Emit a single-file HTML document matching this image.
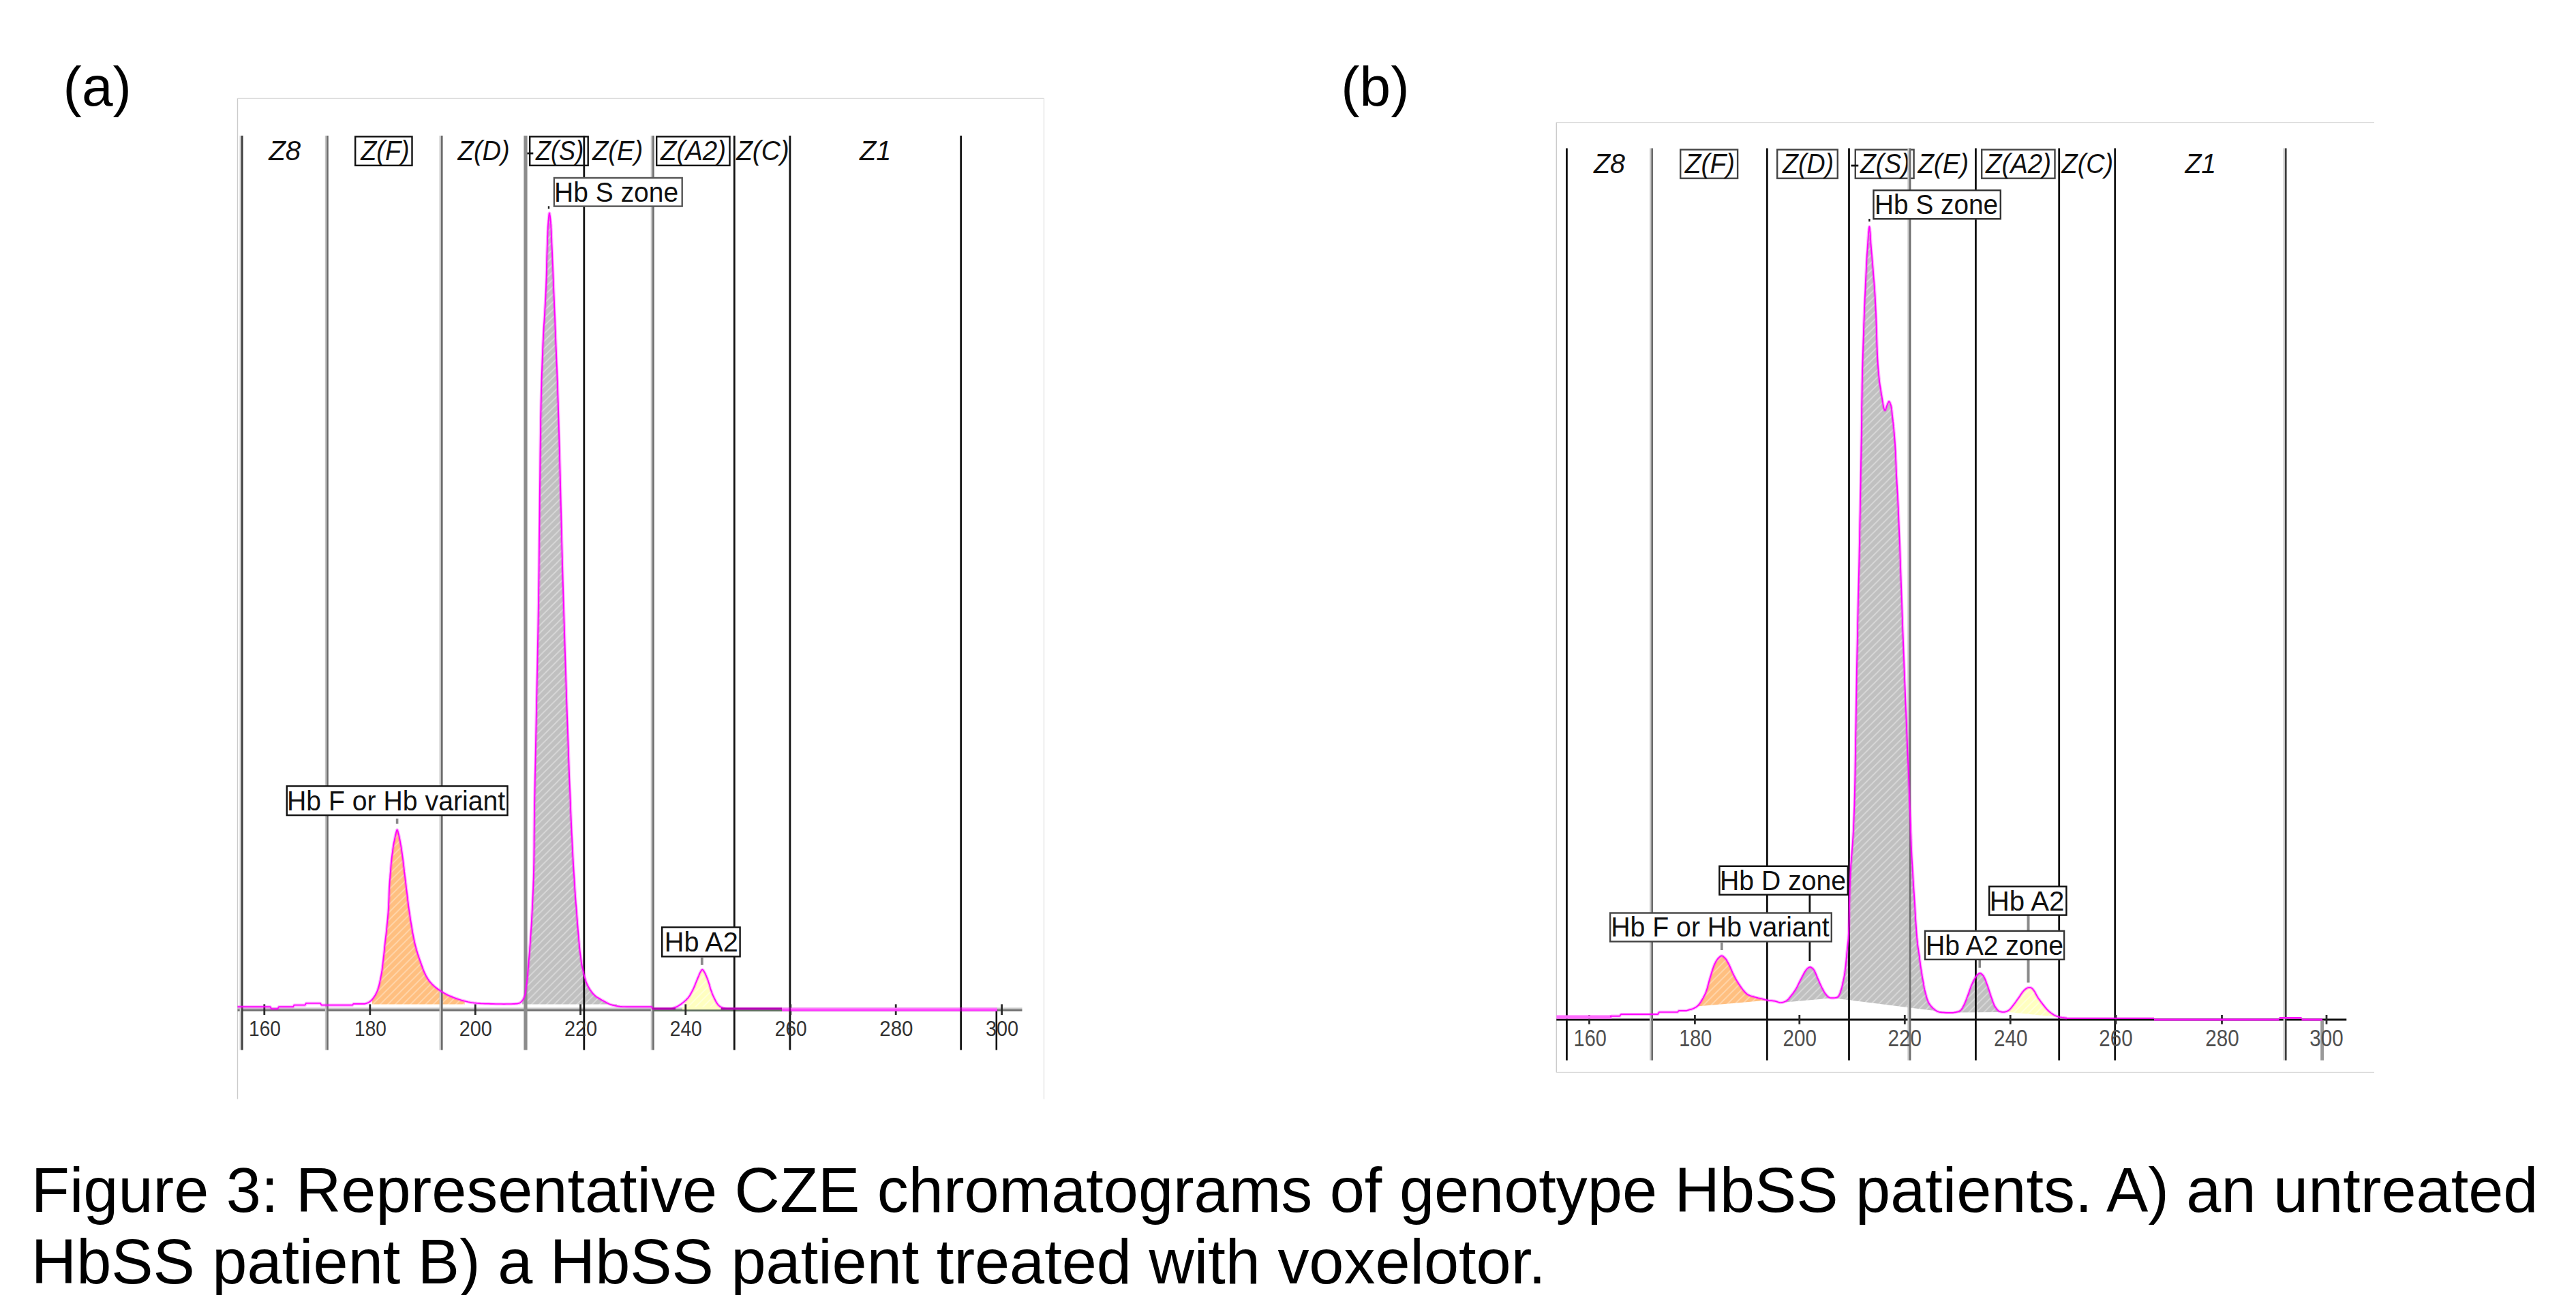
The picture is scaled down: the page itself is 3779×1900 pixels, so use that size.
<!DOCTYPE html>
<html><head><meta charset="utf-8"><title>Figure 3</title>
<style>
html,body{margin:0;padding:0;background:#fff}
body{width:3779px;height:1900px;overflow:hidden;position:relative;font-family:"Liberation Sans",sans-serif;color:#000}
svg{position:absolute;left:0;top:0}
svg text{font-family:"Liberation Sans",sans-serif}
.pl{position:absolute;font-size:82px;line-height:1;white-space:nowrap}
.cap{position:absolute;left:45.8px;top:1693.7px;font-size:91.9px;line-height:105px;white-space:nowrap;margin:0}
</style></head><body>
<svg width="3779" height="1900" viewBox="0 0 3779 1900">
<defs>
<pattern id="hg" width="11.1" height="11.1" patternUnits="userSpaceOnUse"><rect width="11.1" height="11.1" fill="#c0c0c0"/><path d="M-2,13.1 L13.1,-2 M-2,2 L2,-2 M9.1,13.1 L13.1,9.1" stroke="#dadada" stroke-width="1.7"/></pattern>
<pattern id="ho" width="11.1" height="11.1" patternUnits="userSpaceOnUse"><rect width="11.1" height="11.1" fill="#ffbf80"/><path d="M-2,13.1 L13.1,-2 M-2,2 L2,-2 M9.1,13.1 L13.1,9.1" stroke="#ffd8b0" stroke-width="1.7"/></pattern>
<pattern id="hy" width="11.1" height="11.1" patternUnits="userSpaceOnUse"><rect width="11.1" height="11.1" fill="#ffffc0"/><path d="M-2,13.1 L13.1,-2 M-2,2 L2,-2 M9.1,13.1 L13.1,9.1" stroke="#ffffe0" stroke-width="1.7"/></pattern>
</defs>
<g>
<path d="M348.5,1612.5 V144.3" fill="none" stroke="#cbcbcb" stroke-width="1.4"/><path d="M348.5,144.3 H1531.5" fill="none" stroke="#dcdcdc" stroke-width="1.3"/><path d="M1531.5,144.3 V1612.5" fill="none" stroke="#e0e0e0" stroke-width="1.3"/>
<path d="M546.0,1466.4 L546.7,1465.5 L547.4,1464.6 L548.2,1463.6 L548.9,1462.6 L549.6,1461.4 L550.4,1460.2 L551.1,1459.0 L551.7,1457.7 L552.4,1456.4 L553.0,1455.0 L553.8,1453.1 L554.5,1451.1 L555.1,1448.9 L555.8,1446.7 L556.3,1444.4 L556.9,1442.1 L557.4,1439.6 L558.0,1437.0 L558.5,1434.4 L559.0,1431.7 L559.7,1427.7 L560.4,1423.4 L561.0,1418.9 L561.6,1414.2 L562.1,1409.4 L562.6,1404.4 L563.2,1399.5 L563.7,1394.6 L564.2,1389.7 L564.7,1385.0 L565.2,1380.4 L565.7,1375.8 L566.3,1371.2 L566.8,1366.6 L567.3,1362.0 L567.7,1357.4 L568.2,1352.8 L568.6,1348.2 L569.0,1343.6 L569.4,1339.0 L569.7,1334.4 L570.0,1329.8 L570.2,1325.1 L570.4,1320.5 L570.6,1315.9 L570.7,1311.2 L570.9,1306.6 L571.1,1302.0 L571.4,1297.3 L571.7,1292.7 L572.1,1288.0 L572.4,1283.1 L572.9,1278.1 L573.3,1273.2 L573.7,1268.3 L574.2,1263.4 L574.7,1258.7 L575.2,1254.2 L575.8,1250.0 L576.3,1246.0 L576.7,1243.4 L577.1,1240.9 L577.5,1238.4 L577.9,1236.0 L578.4,1233.7 L578.8,1231.5 L579.3,1229.4 L579.7,1227.4 L580.1,1225.6 L580.5,1224.0 L580.7,1223.1 L580.9,1222.2 L581.1,1221.3 L581.3,1220.4 L581.6,1219.6 L581.8,1218.9 L582.0,1218.3 L582.2,1217.8 L582.4,1217.5 L582.6,1217.4 L582.8,1217.5 L583.0,1217.8 L583.2,1218.3 L583.5,1218.9 L583.7,1219.6 L583.9,1220.4 L584.1,1221.3 L584.4,1222.2 L584.6,1223.1 L584.8,1224.0 L585.2,1225.6 L585.6,1227.4 L586.0,1229.4 L586.5,1231.5 L586.9,1233.7 L587.3,1236.0 L587.7,1238.4 L588.2,1240.9 L588.6,1243.4 L589.0,1246.0 L589.6,1250.0 L590.2,1254.2 L590.8,1258.7 L591.4,1263.4 L592.0,1268.3 L592.6,1273.2 L593.1,1278.2 L593.7,1283.1 L594.3,1288.0 L594.9,1292.7 L595.5,1297.3 L596.0,1302.0 L596.6,1306.6 L597.1,1311.2 L597.7,1315.9 L598.2,1320.5 L598.8,1325.1 L599.4,1329.8 L600.0,1334.4 L600.7,1339.0 L601.4,1343.7 L602.1,1348.5 L602.9,1353.3 L603.7,1358.2 L604.5,1363.0 L605.3,1367.8 L606.2,1372.4 L607.0,1376.8 L607.9,1381.1 L608.8,1385.0 L609.4,1387.6 L610.1,1390.1 L610.7,1392.5 L611.4,1394.8 L612.1,1397.0 L612.7,1399.2 L613.4,1401.4 L614.2,1403.5 L614.9,1405.7 L615.7,1408.0 L616.5,1410.4 L617.4,1412.9 L618.3,1415.4 L619.2,1417.9 L620.1,1420.5 L621.0,1422.9 L622.0,1425.3 L623.0,1427.6 L624.0,1429.7 L625.0,1431.7 L625.7,1433.0 L626.5,1434.3 L627.2,1435.5 L627.9,1436.6 L628.7,1437.7 L629.4,1438.8 L630.2,1439.9 L631.1,1440.9 L632.0,1441.9 L633.0,1443.0 L634.2,1444.3 L635.6,1445.5 L637.0,1446.8 L638.4,1448.1 L639.9,1449.3 L641.5,1450.5 L643.1,1451.7 L644.7,1452.8 L646.4,1453.9 L648.0,1455.0 L649.7,1456.1 L651.5,1457.1 L653.3,1458.0 L655.1,1459.0 L656.9,1459.9 L658.8,1460.8 L660.7,1461.6 L662.7,1462.4 L664.7,1463.2 L666.7,1464.0 L669.0,1464.9 L671.4,1465.7 L673.9,1466.5 L676.4,1467.3 L679.0,1468.0 L681.5,1468.7 L682,1473.5 L546,1473.5 Z" fill="url(#ho)"/>
<path d="M766.2,1468.1 L766.7,1467.4 L767.2,1466.6 L767.7,1465.7 L768.2,1464.9 L768.6,1463.9 L769.0,1463.0 L769.5,1461.6 L770.0,1460.1 L770.4,1458.5 L770.7,1456.8 L771.0,1455.0 L771.3,1453.1 L771.6,1451.2 L771.8,1449.1 L772.1,1447.0 L772.4,1444.8 L772.9,1441.0 L773.3,1436.9 L773.8,1432.5 L774.2,1427.8 L774.7,1423.0 L775.1,1418.1 L775.5,1413.1 L775.8,1408.1 L776.2,1403.2 L776.6,1398.5 L777.0,1393.9 L777.3,1389.4 L777.7,1384.9 L778.0,1380.4 L778.3,1375.8 L778.6,1371.3 L778.9,1366.6 L779.2,1361.9 L779.5,1357.0 L779.8,1352.0 L780.1,1345.7 L780.5,1339.2 L780.8,1332.5 L781.2,1325.8 L781.5,1318.8 L781.8,1311.8 L782.1,1304.7 L782.3,1297.4 L782.6,1290.1 L782.8,1282.7 L783.0,1274.2 L783.2,1265.9 L783.3,1257.5 L783.4,1249.1 L783.5,1240.5 L783.5,1231.5 L783.6,1222.1 L783.7,1212.1 L783.8,1201.5 L784.0,1190.0 L784.4,1166.9 L784.9,1141.0 L785.5,1112.6 L786.1,1082.3 L786.7,1050.7 L787.4,1018.2 L788.1,985.4 L788.7,952.7 L789.3,920.8 L789.8,890.0 L790.3,859.2 L790.7,827.2 L791.0,794.5 L791.4,761.7 L791.7,729.2 L792.1,697.5 L792.4,667.3 L792.8,638.9 L793.2,613.0 L793.7,590.0 L794.0,578.7 L794.3,568.1 L794.5,558.3 L794.8,549.0 L795.1,540.2 L795.4,531.7 L795.7,523.4 L796.1,515.1 L796.4,506.9 L796.8,498.5 L797.2,491.2 L797.5,484.0 L797.9,476.9 L798.4,470.0 L798.8,463.2 L799.2,456.3 L799.6,449.6 L800.0,442.7 L800.4,435.9 L800.7,429.0 L801.0,421.9 L801.2,414.7 L801.5,407.4 L801.7,400.1 L801.9,392.8 L802.0,385.6 L802.2,378.6 L802.4,371.9 L802.6,365.5 L802.8,359.5 L803.0,355.5 L803.1,351.5 L803.2,347.6 L803.4,343.9 L803.5,340.2 L803.7,336.8 L803.8,333.4 L804.0,330.3 L804.2,327.4 L804.4,324.7 L804.5,323.1 L804.7,321.5 L804.8,319.8 L805.0,318.2 L805.2,316.7 L805.3,315.3 L805.5,314.2 L805.7,313.3 L805.8,312.7 L806.0,312.5 L806.2,312.7 L806.4,313.3 L806.5,314.2 L806.7,315.3 L806.9,316.7 L807.1,318.2 L807.3,319.8 L807.5,321.5 L807.6,323.1 L807.8,324.7 L808.0,327.4 L808.3,330.3 L808.4,333.4 L808.6,336.8 L808.8,340.2 L808.9,343.9 L809.1,347.6 L809.3,351.5 L809.4,355.5 L809.6,359.5 L809.9,365.5 L810.2,371.9 L810.4,378.6 L810.7,385.6 L811.0,392.8 L811.3,400.1 L811.6,407.4 L811.9,414.7 L812.2,421.9 L812.5,429.0 L812.8,435.9 L813.1,442.7 L813.3,449.5 L813.6,456.3 L813.9,463.2 L814.2,470.0 L814.4,476.9 L814.7,484.0 L815.0,491.2 L815.3,498.5 L815.6,506.9 L816.0,515.2 L816.3,523.4 L816.6,531.7 L817.0,540.2 L817.3,549.0 L817.7,558.3 L818.1,568.1 L818.4,578.7 L818.8,590.0 L819.5,613.0 L820.2,638.9 L821.0,667.3 L821.8,697.5 L822.6,729.2 L823.4,761.7 L824.2,794.6 L825.1,827.2 L826.0,859.2 L826.9,890.0 L827.9,920.8 L828.9,952.7 L829.9,985.4 L831.0,1018.2 L832.1,1050.7 L833.2,1082.3 L834.3,1112.6 L835.3,1141.0 L836.4,1166.9 L837.3,1190.0 L837.8,1201.5 L838.3,1212.1 L838.7,1222.1 L839.2,1231.5 L839.6,1240.5 L840.1,1249.1 L840.5,1257.6 L841.0,1265.9 L841.5,1274.2 L842.0,1282.7 L842.5,1290.1 L842.9,1297.4 L843.4,1304.7 L843.9,1311.8 L844.4,1318.8 L844.9,1325.8 L845.5,1332.5 L846.0,1339.2 L846.5,1345.7 L847.0,1352.0 L847.4,1357.1 L847.8,1362.2 L848.2,1367.2 L848.6,1372.1 L849.0,1376.9 L849.4,1381.6 L849.9,1386.1 L850.3,1390.4 L850.7,1394.6 L851.2,1398.5 L851.5,1401.1 L851.8,1403.5 L852.1,1405.8 L852.4,1408.1 L852.7,1410.2 L853.1,1412.4 L853.4,1414.5 L853.8,1416.6 L854.2,1418.8 L854.7,1421.0 L855.2,1423.4 L855.8,1425.8 L856.4,1428.3 L857.0,1430.8 L857.6,1433.3 L858.3,1435.7 L859.0,1438.1 L859.8,1440.5 L860.7,1442.7 L861.6,1444.8 L862.5,1446.6 L863.4,1448.3 L864.4,1450.0 L865.4,1451.7 L866.5,1453.3 L867.6,1454.8 L868.7,1456.2 L869.8,1457.6 L870.9,1458.9 L872.0,1460.0 L872.8,1460.7 L873.6,1461.4 L874.4,1462.0 L875.2,1462.6 L876.0,1463.1 L876.8,1463.6 L877.6,1464.1 L878.4,1464.5 L879.2,1465.0 L880.0,1465.5 L880.8,1466.0 L881.6,1466.5 L882.4,1466.9 L883.2,1467.4 L884.0,1467.8 L884.8,1468.3 L885.6,1468.7 L886.4,1469.2 L887.2,1469.6 L888.0,1470.0 L888.7,1470.4 L889.4,1470.8 L890.1,1471.1 L890.7,1471.5 L891.4,1471.9 L892.1,1472.2 L892.7,1472.5 L893.5,1472.9 L894.2,1473.2 L895.0,1473.5 L896.0,1473.9 L897.1,1474.2 L898.1,1474.6 L899.2,1474.9 L900.4,1475.2 L901.6,1475.5 L902.8,1475.7 L904.1,1476.0 L905,1473.5 L766,1473.5 Z" fill="url(#hg)"/>
<path d="M1004.4,1469.0 L1005.7,1467.8 L1007.0,1466.6 L1008.1,1465.4 L1009.2,1464.2 L1010.1,1463.1 L1011.0,1461.9 L1011.8,1460.7 L1012.5,1459.5 L1013.2,1458.2 L1013.9,1457.0 L1014.6,1455.7 L1015.3,1454.4 L1015.9,1453.1 L1016.6,1451.8 L1017.3,1450.4 L1018.0,1448.9 L1018.6,1447.4 L1019.3,1445.9 L1019.9,1444.3 L1020.5,1442.8 L1021.1,1441.3 L1021.7,1439.8 L1022.3,1438.3 L1022.9,1436.9 L1023.4,1435.7 L1023.9,1434.4 L1024.4,1433.2 L1024.9,1432.0 L1025.4,1430.7 L1025.9,1429.6 L1026.4,1428.5 L1026.9,1427.4 L1027.3,1426.5 L1027.8,1425.7 L1028.1,1425.3 L1028.3,1424.8 L1028.6,1424.4 L1028.8,1424.0 L1029.1,1423.6 L1029.3,1423.3 L1029.5,1423.0 L1029.8,1422.8 L1030.0,1422.7 L1030.3,1422.6 L1030.6,1422.6 L1030.8,1422.8 L1031.1,1423.0 L1031.4,1423.3 L1031.6,1423.6 L1031.9,1424.0 L1032.2,1424.4 L1032.4,1424.8 L1032.7,1425.2 L1033.0,1425.7 L1033.6,1426.7 L1034.2,1427.8 L1034.8,1429.1 L1035.4,1430.5 L1036.1,1431.9 L1036.7,1433.5 L1037.3,1435.0 L1037.9,1436.5 L1038.5,1438.0 L1039.0,1439.4 L1039.4,1440.7 L1039.8,1441.9 L1040.2,1443.2 L1040.6,1444.4 L1040.9,1445.6 L1041.2,1446.9 L1041.6,1448.1 L1041.9,1449.3 L1042.3,1450.6 L1042.7,1451.8 L1043.1,1453.1 L1043.6,1454.3 L1044.1,1455.6 L1044.5,1456.8 L1045.0,1458.1 L1045.5,1459.3 L1046.0,1460.6 L1046.6,1461.8 L1047.1,1463.0 L1047.7,1464.2 L1048.3,1465.3 L1048.8,1466.5 L1049.4,1467.7 L1050.0,1468.8 L1050.6,1470.0 L1051.3,1471.1 L1051.9,1472.1 L1052.6,1473.1 L1053.3,1474.0 L1054.0,1474.8 L1054.6,1475.3 L1055.1,1475.8 L1055.7,1476.3 L1056.3,1476.7 L1056.9,1477.1 L1057.5,1477.4 L1058.1,1477.8 L1058.8,1478.1 L1059.4,1478.3 L1060,1479 L1004,1479 Z" fill="url(#hy)"/>
<rect x="348.5" y="1478.4" width="1151" height="2.4" fill="#c9c9c9"/>
<rect x="348.5" y="1480.8" width="1151" height="2.8" fill="#6e6e6e"/>
<rect x="957" y="1481.2" width="190" height="2.6" fill="#607060"/>
<rect x="1001" y="1477.5" width="56" height="3.7" fill="#ffffc0"/>
<text class="lb" x="394.2" y="235.3" font-size="40" textLength="47.0" lengthAdjust="spacingAndGlyphs" fill="#111" font-style="italic">Z8</text>
<rect x="521.2" y="200.4" width="83.3" height="42.4" fill="#fff" stroke="#111" stroke-width="2.4"/>
<text class="lb" x="529.2" y="235.3" font-size="40" textLength="71.4" lengthAdjust="spacingAndGlyphs" fill="#111" font-style="italic">Z(F)</text>
<text class="lb" x="671.6" y="235.3" font-size="40" textLength="76.2" lengthAdjust="spacingAndGlyphs" fill="#111" font-style="italic">Z(D)</text>
<rect x="777.2" y="200.4" width="85.5" height="42.4" fill="#fff" stroke="#111" stroke-width="2.4"/>
<text class="lb" x="786.0" y="235.3" font-size="40" textLength="70.2" lengthAdjust="spacingAndGlyphs" fill="#111" font-style="italic">Z(S)</text>
<rect x="771.5" y="223.6" width="10.8" height="2.8" fill="#111"/>
<text class="lb" x="869.0" y="235.3" font-size="40" textLength="74.2" lengthAdjust="spacingAndGlyphs" fill="#111" font-style="italic">Z(E)</text>
<rect x="963.2" y="200.4" width="107.3" height="42.4" fill="#fff" stroke="#111" stroke-width="2.4"/>
<text class="lb" x="969.0" y="235.3" font-size="40" textLength="96.0" lengthAdjust="spacingAndGlyphs" fill="#111" font-style="italic">Z(A2)</text>
<text class="lb" x="1080.2" y="235.3" font-size="40" textLength="77.4" lengthAdjust="spacingAndGlyphs" fill="#111" font-style="italic">Z(C)</text>
<text class="lb" x="1261.1" y="235.3" font-size="40" textLength="46.2" lengthAdjust="spacingAndGlyphs" fill="#111" font-style="italic">Z1</text>
<rect x="351.6" y="199" width="2.6" height="1341.6" fill="#c8c8c8"/>
<rect x="354.0" y="199" width="2.6" height="1341.6" fill="#3c3c3c"/>
<rect x="476.8" y="199" width="2.6" height="1341.6" fill="#c6c6c6"/>
<rect x="479.2" y="199" width="2.6" height="1341.6" fill="#6c6c6c"/>
<rect x="644.6" y="199" width="2.6" height="1341.6" fill="#c6c6c6"/>
<rect x="647.0" y="199" width="2.6" height="1341.6" fill="#6c6c6c"/>
<rect x="768.4" y="199" width="5.2" height="1341.6" fill="#8c8c8c"/>
<rect x="855.4" y="199" width="2.8" height="1341.6" fill="#111"/>
<rect x="954.7" y="199" width="2.6" height="1341.6" fill="#c6c6c6"/>
<rect x="957.1" y="199" width="2.6" height="1341.6" fill="#6c6c6c"/>
<rect x="1075.9" y="199" width="2.8" height="1341.6" fill="#111"/>
<rect x="1157.5" y="199" width="2.8" height="1341.6" fill="#111"/>
<rect x="1408.3" y="199" width="2.8" height="1341.6" fill="#111"/>
<rect x="1460.5" y="1481" width="2.6" height="59.6" fill="#111"/>
<rect x="386.4" y="1473.4" width="2.8" height="15.7" fill="#2a2a2a"/>
<text class="lb" x="365.1" y="1519.6" font-size="32" textLength="46.8" lengthAdjust="spacingAndGlyphs" fill="#333">160</text>
<rect x="541.4" y="1473.4" width="2.8" height="15.7" fill="#2a2a2a"/>
<text class="lb" x="520.1" y="1519.6" font-size="32" textLength="46.8" lengthAdjust="spacingAndGlyphs" fill="#333">180</text>
<rect x="695.9" y="1473.4" width="2.8" height="15.7" fill="#2a2a2a"/>
<text class="lb" x="673.7" y="1519.6" font-size="32" textLength="48.1" lengthAdjust="spacingAndGlyphs" fill="#333">200</text>
<rect x="850.2" y="1473.4" width="2.8" height="15.7" fill="#2a2a2a"/>
<text class="lb" x="827.9" y="1519.6" font-size="32" textLength="48.2" lengthAdjust="spacingAndGlyphs" fill="#333">220</text>
<rect x="1004.4" y="1473.4" width="2.8" height="15.7" fill="#2a2a2a"/>
<text class="lb" x="982.7" y="1519.6" font-size="32" textLength="47.1" lengthAdjust="spacingAndGlyphs" fill="#333">240</text>
<rect x="1158.4" y="1473.4" width="2.8" height="15.7" fill="#2a2a2a"/>
<text class="lb" x="1136.7" y="1519.6" font-size="32" textLength="47.1" lengthAdjust="spacingAndGlyphs" fill="#333">260</text>
<rect x="1312.8" y="1473.4" width="2.8" height="15.7" fill="#2a2a2a"/>
<text class="lb" x="1290.3" y="1519.6" font-size="32" textLength="49.2" lengthAdjust="spacingAndGlyphs" fill="#333">280</text>
<rect x="1468.2" y="1473.4" width="2.8" height="15.7" fill="#2a2a2a"/>
<text class="lb" x="1445.9" y="1519.6" font-size="32" textLength="48.2" lengthAdjust="spacingAndGlyphs" fill="#333">300</text>
<path d="M348.5,1477.2 L396.5,1477.2 L398.0,1480.0 L407.5,1480.0 L409.0,1477.2 L430.0,1477.2 L431.5,1474.7 L447.5,1474.7 L449.0,1472.0 L470.0,1472.0 L471.5,1474.7 L517.0,1474.7 L518.5,1472.8 L535.0,1472.8 L535.0,1472.8 L535.2,1472.8 L535.4,1472.7 L535.6,1472.7 L535.8,1472.6 L536.0,1472.6 L536.2,1472.5 L536.4,1472.5 L536.6,1472.4 L536.8,1472.4 L537.0,1472.3 L537.3,1472.2 L537.7,1472.0 L538.1,1471.9 L538.5,1471.7 L538.9,1471.6 L539.3,1471.4 L539.8,1471.2 L540.2,1471.0 L540.6,1470.7 L541.0,1470.5 L541.5,1470.2 L542.0,1469.9 L542.5,1469.5 L543.0,1469.2 L543.5,1468.8 L544.0,1468.4 L544.5,1467.9 L545.0,1467.5 L545.5,1466.9 L546.0,1466.4 L546.7,1465.5 L547.4,1464.6 L548.2,1463.6 L548.9,1462.6 L549.6,1461.4 L550.4,1460.2 L551.1,1459.0 L551.7,1457.7 L552.4,1456.4 L553.0,1455.0 L553.8,1453.1 L554.5,1451.1 L555.1,1448.9 L555.8,1446.7 L556.3,1444.4 L556.9,1442.1 L557.4,1439.6 L558.0,1437.0 L558.5,1434.4 L559.0,1431.7 L559.7,1427.7 L560.4,1423.4 L561.0,1418.9 L561.6,1414.2 L562.1,1409.4 L562.6,1404.4 L563.2,1399.5 L563.7,1394.6 L564.2,1389.7 L564.7,1385.0 L565.2,1380.4 L565.7,1375.8 L566.3,1371.2 L566.8,1366.6 L567.3,1362.0 L567.7,1357.4 L568.2,1352.8 L568.6,1348.2 L569.0,1343.6 L569.4,1339.0 L569.7,1334.4 L570.0,1329.8 L570.2,1325.1 L570.4,1320.5 L570.6,1315.9 L570.7,1311.2 L570.9,1306.6 L571.1,1302.0 L571.4,1297.3 L571.7,1292.7 L572.1,1288.0 L572.4,1283.1 L572.9,1278.1 L573.3,1273.2 L573.7,1268.3 L574.2,1263.4 L574.7,1258.7 L575.2,1254.2 L575.8,1250.0 L576.3,1246.0 L576.7,1243.4 L577.1,1240.9 L577.5,1238.4 L577.9,1236.0 L578.4,1233.7 L578.8,1231.5 L579.3,1229.4 L579.7,1227.4 L580.1,1225.6 L580.5,1224.0 L580.7,1223.1 L580.9,1222.2 L581.1,1221.3 L581.3,1220.4 L581.6,1219.6 L581.8,1218.9 L582.0,1218.3 L582.2,1217.8 L582.4,1217.5 L582.6,1217.4 L582.8,1217.5 L583.0,1217.8 L583.2,1218.3 L583.5,1218.9 L583.7,1219.6 L583.9,1220.4 L584.1,1221.3 L584.4,1222.2 L584.6,1223.1 L584.8,1224.0 L585.2,1225.6 L585.6,1227.4 L586.0,1229.4 L586.5,1231.5 L586.9,1233.7 L587.3,1236.0 L587.7,1238.4 L588.2,1240.9 L588.6,1243.4 L589.0,1246.0 L589.6,1250.0 L590.2,1254.2 L590.8,1258.7 L591.4,1263.4 L592.0,1268.3 L592.6,1273.2 L593.1,1278.2 L593.7,1283.1 L594.3,1288.0 L594.9,1292.7 L595.5,1297.3 L596.0,1302.0 L596.6,1306.6 L597.1,1311.2 L597.7,1315.9 L598.2,1320.5 L598.8,1325.1 L599.4,1329.8 L600.0,1334.4 L600.7,1339.0 L601.4,1343.7 L602.1,1348.5 L602.9,1353.3 L603.7,1358.2 L604.5,1363.0 L605.3,1367.8 L606.2,1372.4 L607.0,1376.8 L607.9,1381.1 L608.8,1385.0 L609.4,1387.6 L610.1,1390.1 L610.7,1392.5 L611.4,1394.8 L612.1,1397.0 L612.7,1399.2 L613.4,1401.4 L614.2,1403.5 L614.9,1405.7 L615.7,1408.0 L616.5,1410.4 L617.4,1412.9 L618.3,1415.4 L619.2,1417.9 L620.1,1420.5 L621.0,1422.9 L622.0,1425.3 L623.0,1427.6 L624.0,1429.7 L625.0,1431.7 L625.7,1433.0 L626.5,1434.3 L627.2,1435.5 L627.9,1436.6 L628.7,1437.7 L629.4,1438.8 L630.2,1439.9 L631.1,1440.9 L632.0,1441.9 L633.0,1443.0 L634.2,1444.3 L635.6,1445.5 L637.0,1446.8 L638.4,1448.1 L639.9,1449.3 L641.5,1450.5 L643.1,1451.7 L644.7,1452.8 L646.4,1453.9 L648.0,1455.0 L649.7,1456.1 L651.5,1457.1 L653.3,1458.0 L655.1,1459.0 L656.9,1459.9 L658.8,1460.8 L660.7,1461.6 L662.7,1462.4 L664.7,1463.2 L666.7,1464.0 L669.0,1464.9 L671.4,1465.7 L673.9,1466.5 L676.4,1467.3 L679.0,1468.0 L681.5,1468.7 L684.1,1469.4 L686.8,1470.0 L689.4,1470.5 L692.0,1471.0 L694.7,1471.4 L697.4,1471.7 L700.2,1472.0 L702.9,1472.2 L705.7,1472.4 L708.5,1472.5 L711.3,1472.6 L714.2,1472.6 L717.1,1472.7 L720.0,1472.8 L723.5,1472.9 L727.3,1473.0 L731.2,1473.0 L735.2,1473.0 L739.2,1473.1 L743.1,1473.0 L746.7,1473.0 L750.0,1473.0 L752.8,1472.9 L755.0,1472.8 L755.7,1472.8 L756.3,1472.7 L756.9,1472.7 L757.4,1472.7 L757.8,1472.7 L758.3,1472.6 L758.7,1472.6 L759.1,1472.5 L759.6,1472.4 L760.0,1472.3 L760.4,1472.2 L760.8,1472.1 L761.3,1471.9 L761.7,1471.8 L762.1,1471.7 L762.5,1471.5 L762.9,1471.3 L763.2,1471.1 L763.6,1470.8 L764.0,1470.5 L764.5,1470.0 L765.1,1469.4 L765.6,1468.8 L766.2,1468.1 L766.7,1467.4 L767.2,1466.6 L767.7,1465.7 L768.2,1464.9 L768.6,1463.9 L769.0,1463.0 L769.5,1461.6 L770.0,1460.1 L770.4,1458.5 L770.7,1456.8 L771.0,1455.0 L771.3,1453.1 L771.6,1451.2 L771.8,1449.1 L772.1,1447.0 L772.4,1444.8 L772.9,1441.0 L773.3,1436.9 L773.8,1432.5 L774.2,1427.8 L774.7,1423.0 L775.1,1418.1 L775.5,1413.1 L775.8,1408.1 L776.2,1403.2 L776.6,1398.5 L777.0,1393.9 L777.3,1389.4 L777.7,1384.9 L778.0,1380.4 L778.3,1375.8 L778.6,1371.3 L778.9,1366.6 L779.2,1361.9 L779.5,1357.0 L779.8,1352.0 L780.1,1345.7 L780.5,1339.2 L780.8,1332.5 L781.2,1325.8 L781.5,1318.8 L781.8,1311.8 L782.1,1304.7 L782.3,1297.4 L782.6,1290.1 L782.8,1282.7 L783.0,1274.2 L783.2,1265.9 L783.3,1257.5 L783.4,1249.1 L783.5,1240.5 L783.5,1231.5 L783.6,1222.1 L783.7,1212.1 L783.8,1201.5 L784.0,1190.0 L784.4,1166.9 L784.9,1141.0 L785.5,1112.6 L786.1,1082.3 L786.7,1050.7 L787.4,1018.2 L788.1,985.4 L788.7,952.7 L789.3,920.8 L789.8,890.0 L790.3,859.2 L790.7,827.2 L791.0,794.5 L791.4,761.7 L791.7,729.2 L792.1,697.5 L792.4,667.3 L792.8,638.9 L793.2,613.0 L793.7,590.0 L794.0,578.7 L794.3,568.1 L794.5,558.3 L794.8,549.0 L795.1,540.2 L795.4,531.7 L795.7,523.4 L796.1,515.1 L796.4,506.9 L796.8,498.5 L797.2,491.2 L797.5,484.0 L797.9,476.9 L798.4,470.0 L798.8,463.2 L799.2,456.3 L799.6,449.6 L800.0,442.7 L800.4,435.9 L800.7,429.0 L801.0,421.9 L801.2,414.7 L801.5,407.4 L801.7,400.1 L801.9,392.8 L802.0,385.6 L802.2,378.6 L802.4,371.9 L802.6,365.5 L802.8,359.5 L803.0,355.5 L803.1,351.5 L803.2,347.6 L803.4,343.9 L803.5,340.2 L803.7,336.8 L803.8,333.4 L804.0,330.3 L804.2,327.4 L804.4,324.7 L804.5,323.1 L804.7,321.5 L804.8,319.8 L805.0,318.2 L805.2,316.7 L805.3,315.3 L805.5,314.2 L805.7,313.3 L805.8,312.7 L806.0,312.5 L806.2,312.7 L806.4,313.3 L806.5,314.2 L806.7,315.3 L806.9,316.7 L807.1,318.2 L807.3,319.8 L807.5,321.5 L807.6,323.1 L807.8,324.7 L808.0,327.4 L808.3,330.3 L808.4,333.4 L808.6,336.8 L808.8,340.2 L808.9,343.9 L809.1,347.6 L809.3,351.5 L809.4,355.5 L809.6,359.5 L809.9,365.5 L810.2,371.9 L810.4,378.6 L810.7,385.6 L811.0,392.8 L811.3,400.1 L811.6,407.4 L811.9,414.7 L812.2,421.9 L812.5,429.0 L812.8,435.9 L813.1,442.7 L813.3,449.5 L813.6,456.3 L813.9,463.2 L814.2,470.0 L814.4,476.9 L814.7,484.0 L815.0,491.2 L815.3,498.5 L815.6,506.9 L816.0,515.2 L816.3,523.4 L816.6,531.7 L817.0,540.2 L817.3,549.0 L817.7,558.3 L818.1,568.1 L818.4,578.7 L818.8,590.0 L819.5,613.0 L820.2,638.9 L821.0,667.3 L821.8,697.5 L822.6,729.2 L823.4,761.7 L824.2,794.6 L825.1,827.2 L826.0,859.2 L826.9,890.0 L827.9,920.8 L828.9,952.7 L829.9,985.4 L831.0,1018.2 L832.1,1050.7 L833.2,1082.3 L834.3,1112.6 L835.3,1141.0 L836.4,1166.9 L837.3,1190.0 L837.8,1201.5 L838.3,1212.1 L838.7,1222.1 L839.2,1231.5 L839.6,1240.5 L840.1,1249.1 L840.5,1257.6 L841.0,1265.9 L841.5,1274.2 L842.0,1282.7 L842.5,1290.1 L842.9,1297.4 L843.4,1304.7 L843.9,1311.8 L844.4,1318.8 L844.9,1325.8 L845.5,1332.5 L846.0,1339.2 L846.5,1345.7 L847.0,1352.0 L847.4,1357.1 L847.8,1362.2 L848.2,1367.2 L848.6,1372.1 L849.0,1376.9 L849.4,1381.6 L849.9,1386.1 L850.3,1390.4 L850.7,1394.6 L851.2,1398.5 L851.5,1401.1 L851.8,1403.5 L852.1,1405.8 L852.4,1408.1 L852.7,1410.2 L853.1,1412.4 L853.4,1414.5 L853.8,1416.6 L854.2,1418.8 L854.7,1421.0 L855.2,1423.4 L855.8,1425.8 L856.4,1428.3 L857.0,1430.8 L857.6,1433.3 L858.3,1435.7 L859.0,1438.1 L859.8,1440.5 L860.7,1442.7 L861.6,1444.8 L862.5,1446.6 L863.4,1448.3 L864.4,1450.0 L865.4,1451.7 L866.5,1453.3 L867.6,1454.8 L868.7,1456.2 L869.8,1457.6 L870.9,1458.9 L872.0,1460.0 L872.8,1460.7 L873.6,1461.4 L874.4,1462.0 L875.2,1462.6 L876.0,1463.1 L876.8,1463.6 L877.6,1464.1 L878.4,1464.5 L879.2,1465.0 L880.0,1465.5 L880.8,1466.0 L881.6,1466.5 L882.4,1466.9 L883.2,1467.4 L884.0,1467.8 L884.8,1468.3 L885.6,1468.7 L886.4,1469.2 L887.2,1469.6 L888.0,1470.0 L888.7,1470.4 L889.4,1470.8 L890.1,1471.1 L890.7,1471.5 L891.4,1471.9 L892.1,1472.2 L892.7,1472.5 L893.5,1472.9 L894.2,1473.2 L895.0,1473.5 L896.0,1473.9 L897.1,1474.2 L898.1,1474.6 L899.2,1474.9 L900.4,1475.2 L901.6,1475.5 L902.8,1475.7 L904.1,1476.0 L905.5,1476.2 L907.0,1476.4 L909.7,1476.7 L912.7,1476.9 L916.1,1477.0 L919.6,1477.1 L923.2,1477.2 L926.9,1477.2 L930.4,1477.2 L933.9,1477.2 L937.1,1477.2 L940.0,1477.2 L941.8,1477.2 L943.6,1477.2 L945.2,1477.2 L946.8,1477.2 L948.4,1477.2 L949.9,1477.2 L951.4,1477.2 L952.9,1477.2 L954.4,1477.2 L956.0,1477.2 L956.0,1477.2 L957.5,1479.8 L985.0,1479.8 L985.0,1479.8 L985.5,1479.6 L986.0,1479.5 L986.5,1479.4 L987.0,1479.2 L987.5,1479.1 L988.0,1478.9 L988.5,1478.8 L989.0,1478.6 L989.5,1478.4 L990.0,1478.2 L990.6,1477.9 L991.3,1477.7 L991.9,1477.4 L992.6,1477.1 L993.3,1476.8 L993.9,1476.5 L994.6,1476.1 L995.3,1475.7 L996.1,1475.3 L996.8,1474.8 L997.9,1474.0 L999.2,1473.2 L1000.5,1472.2 L1001.8,1471.2 L1003.1,1470.1 L1004.4,1469.0 L1005.7,1467.8 L1007.0,1466.6 L1008.1,1465.4 L1009.2,1464.2 L1010.1,1463.1 L1011.0,1461.9 L1011.8,1460.7 L1012.5,1459.5 L1013.2,1458.2 L1013.9,1457.0 L1014.6,1455.7 L1015.3,1454.4 L1015.9,1453.1 L1016.6,1451.8 L1017.3,1450.4 L1018.0,1448.9 L1018.6,1447.4 L1019.3,1445.9 L1019.9,1444.3 L1020.5,1442.8 L1021.1,1441.3 L1021.7,1439.8 L1022.3,1438.3 L1022.9,1436.9 L1023.4,1435.7 L1023.9,1434.4 L1024.4,1433.2 L1024.9,1432.0 L1025.4,1430.7 L1025.9,1429.6 L1026.4,1428.5 L1026.9,1427.4 L1027.3,1426.5 L1027.8,1425.7 L1028.1,1425.3 L1028.3,1424.8 L1028.6,1424.4 L1028.8,1424.0 L1029.1,1423.6 L1029.3,1423.3 L1029.5,1423.0 L1029.8,1422.8 L1030.0,1422.7 L1030.3,1422.6 L1030.6,1422.6 L1030.8,1422.8 L1031.1,1423.0 L1031.4,1423.3 L1031.6,1423.6 L1031.9,1424.0 L1032.2,1424.4 L1032.4,1424.8 L1032.7,1425.2 L1033.0,1425.7 L1033.6,1426.7 L1034.2,1427.8 L1034.8,1429.1 L1035.4,1430.5 L1036.1,1431.9 L1036.7,1433.5 L1037.3,1435.0 L1037.9,1436.5 L1038.5,1438.0 L1039.0,1439.4 L1039.4,1440.7 L1039.8,1441.9 L1040.2,1443.2 L1040.6,1444.4 L1040.9,1445.6 L1041.2,1446.9 L1041.6,1448.1 L1041.9,1449.3 L1042.3,1450.6 L1042.7,1451.8 L1043.1,1453.1 L1043.6,1454.3 L1044.1,1455.6 L1044.5,1456.8 L1045.0,1458.1 L1045.5,1459.3 L1046.0,1460.6 L1046.6,1461.8 L1047.1,1463.0 L1047.7,1464.2 L1048.3,1465.3 L1048.8,1466.5 L1049.4,1467.7 L1050.0,1468.8 L1050.6,1470.0 L1051.3,1471.1 L1051.9,1472.1 L1052.6,1473.1 L1053.3,1474.0 L1054.0,1474.8 L1054.6,1475.3 L1055.1,1475.8 L1055.7,1476.3 L1056.3,1476.7 L1056.9,1477.1 L1057.5,1477.4 L1058.1,1477.8 L1058.8,1478.1 L1059.4,1478.3 L1060.0,1478.6 L1060.6,1478.8 L1061.2,1479.0 L1061.8,1479.1 L1062.4,1479.2 L1063.0,1479.3 L1063.6,1479.4 L1064.2,1479.5 L1064.8,1479.6 L1065.4,1479.7 L1066.0,1479.8 L1147.0,1479.8" fill="none" stroke="#ff00ff" stroke-opacity="0.3" stroke-width="4.4" stroke-linejoin="round"/>
<path d="M348.5,1477.2 L396.5,1477.2 L398.0,1480.0 L407.5,1480.0 L409.0,1477.2 L430.0,1477.2 L431.5,1474.7 L447.5,1474.7 L449.0,1472.0 L470.0,1472.0 L471.5,1474.7 L517.0,1474.7 L518.5,1472.8 L535.0,1472.8 L535.0,1472.8 L535.2,1472.8 L535.4,1472.7 L535.6,1472.7 L535.8,1472.6 L536.0,1472.6 L536.2,1472.5 L536.4,1472.5 L536.6,1472.4 L536.8,1472.4 L537.0,1472.3 L537.3,1472.2 L537.7,1472.0 L538.1,1471.9 L538.5,1471.7 L538.9,1471.6 L539.3,1471.4 L539.8,1471.2 L540.2,1471.0 L540.6,1470.7 L541.0,1470.5 L541.5,1470.2 L542.0,1469.9 L542.5,1469.5 L543.0,1469.2 L543.5,1468.8 L544.0,1468.4 L544.5,1467.9 L545.0,1467.5 L545.5,1466.9 L546.0,1466.4 L546.7,1465.5 L547.4,1464.6 L548.2,1463.6 L548.9,1462.6 L549.6,1461.4 L550.4,1460.2 L551.1,1459.0 L551.7,1457.7 L552.4,1456.4 L553.0,1455.0 L553.8,1453.1 L554.5,1451.1 L555.1,1448.9 L555.8,1446.7 L556.3,1444.4 L556.9,1442.1 L557.4,1439.6 L558.0,1437.0 L558.5,1434.4 L559.0,1431.7 L559.7,1427.7 L560.4,1423.4 L561.0,1418.9 L561.6,1414.2 L562.1,1409.4 L562.6,1404.4 L563.2,1399.5 L563.7,1394.6 L564.2,1389.7 L564.7,1385.0 L565.2,1380.4 L565.7,1375.8 L566.3,1371.2 L566.8,1366.6 L567.3,1362.0 L567.7,1357.4 L568.2,1352.8 L568.6,1348.2 L569.0,1343.6 L569.4,1339.0 L569.7,1334.4 L570.0,1329.8 L570.2,1325.1 L570.4,1320.5 L570.6,1315.9 L570.7,1311.2 L570.9,1306.6 L571.1,1302.0 L571.4,1297.3 L571.7,1292.7 L572.1,1288.0 L572.4,1283.1 L572.9,1278.1 L573.3,1273.2 L573.7,1268.3 L574.2,1263.4 L574.7,1258.7 L575.2,1254.2 L575.8,1250.0 L576.3,1246.0 L576.7,1243.4 L577.1,1240.9 L577.5,1238.4 L577.9,1236.0 L578.4,1233.7 L578.8,1231.5 L579.3,1229.4 L579.7,1227.4 L580.1,1225.6 L580.5,1224.0 L580.7,1223.1 L580.9,1222.2 L581.1,1221.3 L581.3,1220.4 L581.6,1219.6 L581.8,1218.9 L582.0,1218.3 L582.2,1217.8 L582.4,1217.5 L582.6,1217.4 L582.8,1217.5 L583.0,1217.8 L583.2,1218.3 L583.5,1218.9 L583.7,1219.6 L583.9,1220.4 L584.1,1221.3 L584.4,1222.2 L584.6,1223.1 L584.8,1224.0 L585.2,1225.6 L585.6,1227.4 L586.0,1229.4 L586.5,1231.5 L586.9,1233.7 L587.3,1236.0 L587.7,1238.4 L588.2,1240.9 L588.6,1243.4 L589.0,1246.0 L589.6,1250.0 L590.2,1254.2 L590.8,1258.7 L591.4,1263.4 L592.0,1268.3 L592.6,1273.2 L593.1,1278.2 L593.7,1283.1 L594.3,1288.0 L594.9,1292.7 L595.5,1297.3 L596.0,1302.0 L596.6,1306.6 L597.1,1311.2 L597.7,1315.9 L598.2,1320.5 L598.8,1325.1 L599.4,1329.8 L600.0,1334.4 L600.7,1339.0 L601.4,1343.7 L602.1,1348.5 L602.9,1353.3 L603.7,1358.2 L604.5,1363.0 L605.3,1367.8 L606.2,1372.4 L607.0,1376.8 L607.9,1381.1 L608.8,1385.0 L609.4,1387.6 L610.1,1390.1 L610.7,1392.5 L611.4,1394.8 L612.1,1397.0 L612.7,1399.2 L613.4,1401.4 L614.2,1403.5 L614.9,1405.7 L615.7,1408.0 L616.5,1410.4 L617.4,1412.9 L618.3,1415.4 L619.2,1417.9 L620.1,1420.5 L621.0,1422.9 L622.0,1425.3 L623.0,1427.6 L624.0,1429.7 L625.0,1431.7 L625.7,1433.0 L626.5,1434.3 L627.2,1435.5 L627.9,1436.6 L628.7,1437.7 L629.4,1438.8 L630.2,1439.9 L631.1,1440.9 L632.0,1441.9 L633.0,1443.0 L634.2,1444.3 L635.6,1445.5 L637.0,1446.8 L638.4,1448.1 L639.9,1449.3 L641.5,1450.5 L643.1,1451.7 L644.7,1452.8 L646.4,1453.9 L648.0,1455.0 L649.7,1456.1 L651.5,1457.1 L653.3,1458.0 L655.1,1459.0 L656.9,1459.9 L658.8,1460.8 L660.7,1461.6 L662.7,1462.4 L664.7,1463.2 L666.7,1464.0 L669.0,1464.9 L671.4,1465.7 L673.9,1466.5 L676.4,1467.3 L679.0,1468.0 L681.5,1468.7 L684.1,1469.4 L686.8,1470.0 L689.4,1470.5 L692.0,1471.0 L694.7,1471.4 L697.4,1471.7 L700.2,1472.0 L702.9,1472.2 L705.7,1472.4 L708.5,1472.5 L711.3,1472.6 L714.2,1472.6 L717.1,1472.7 L720.0,1472.8 L723.5,1472.9 L727.3,1473.0 L731.2,1473.0 L735.2,1473.0 L739.2,1473.1 L743.1,1473.0 L746.7,1473.0 L750.0,1473.0 L752.8,1472.9 L755.0,1472.8 L755.7,1472.8 L756.3,1472.7 L756.9,1472.7 L757.4,1472.7 L757.8,1472.7 L758.3,1472.6 L758.7,1472.6 L759.1,1472.5 L759.6,1472.4 L760.0,1472.3 L760.4,1472.2 L760.8,1472.1 L761.3,1471.9 L761.7,1471.8 L762.1,1471.7 L762.5,1471.5 L762.9,1471.3 L763.2,1471.1 L763.6,1470.8 L764.0,1470.5 L764.5,1470.0 L765.1,1469.4 L765.6,1468.8 L766.2,1468.1 L766.7,1467.4 L767.2,1466.6 L767.7,1465.7 L768.2,1464.9 L768.6,1463.9 L769.0,1463.0 L769.5,1461.6 L770.0,1460.1 L770.4,1458.5 L770.7,1456.8 L771.0,1455.0 L771.3,1453.1 L771.6,1451.2 L771.8,1449.1 L772.1,1447.0 L772.4,1444.8 L772.9,1441.0 L773.3,1436.9 L773.8,1432.5 L774.2,1427.8 L774.7,1423.0 L775.1,1418.1 L775.5,1413.1 L775.8,1408.1 L776.2,1403.2 L776.6,1398.5 L777.0,1393.9 L777.3,1389.4 L777.7,1384.9 L778.0,1380.4 L778.3,1375.8 L778.6,1371.3 L778.9,1366.6 L779.2,1361.9 L779.5,1357.0 L779.8,1352.0 L780.1,1345.7 L780.5,1339.2 L780.8,1332.5 L781.2,1325.8 L781.5,1318.8 L781.8,1311.8 L782.1,1304.7 L782.3,1297.4 L782.6,1290.1 L782.8,1282.7 L783.0,1274.2 L783.2,1265.9 L783.3,1257.5 L783.4,1249.1 L783.5,1240.5 L783.5,1231.5 L783.6,1222.1 L783.7,1212.1 L783.8,1201.5 L784.0,1190.0 L784.4,1166.9 L784.9,1141.0 L785.5,1112.6 L786.1,1082.3 L786.7,1050.7 L787.4,1018.2 L788.1,985.4 L788.7,952.7 L789.3,920.8 L789.8,890.0 L790.3,859.2 L790.7,827.2 L791.0,794.5 L791.4,761.7 L791.7,729.2 L792.1,697.5 L792.4,667.3 L792.8,638.9 L793.2,613.0 L793.7,590.0 L794.0,578.7 L794.3,568.1 L794.5,558.3 L794.8,549.0 L795.1,540.2 L795.4,531.7 L795.7,523.4 L796.1,515.1 L796.4,506.9 L796.8,498.5 L797.2,491.2 L797.5,484.0 L797.9,476.9 L798.4,470.0 L798.8,463.2 L799.2,456.3 L799.6,449.6 L800.0,442.7 L800.4,435.9 L800.7,429.0 L801.0,421.9 L801.2,414.7 L801.5,407.4 L801.7,400.1 L801.9,392.8 L802.0,385.6 L802.2,378.6 L802.4,371.9 L802.6,365.5 L802.8,359.5 L803.0,355.5 L803.1,351.5 L803.2,347.6 L803.4,343.9 L803.5,340.2 L803.7,336.8 L803.8,333.4 L804.0,330.3 L804.2,327.4 L804.4,324.7 L804.5,323.1 L804.7,321.5 L804.8,319.8 L805.0,318.2 L805.2,316.7 L805.3,315.3 L805.5,314.2 L805.7,313.3 L805.8,312.7 L806.0,312.5 L806.2,312.7 L806.4,313.3 L806.5,314.2 L806.7,315.3 L806.9,316.7 L807.1,318.2 L807.3,319.8 L807.5,321.5 L807.6,323.1 L807.8,324.7 L808.0,327.4 L808.3,330.3 L808.4,333.4 L808.6,336.8 L808.8,340.2 L808.9,343.9 L809.1,347.6 L809.3,351.5 L809.4,355.5 L809.6,359.5 L809.9,365.5 L810.2,371.9 L810.4,378.6 L810.7,385.6 L811.0,392.8 L811.3,400.1 L811.6,407.4 L811.9,414.7 L812.2,421.9 L812.5,429.0 L812.8,435.9 L813.1,442.7 L813.3,449.5 L813.6,456.3 L813.9,463.2 L814.2,470.0 L814.4,476.9 L814.7,484.0 L815.0,491.2 L815.3,498.5 L815.6,506.9 L816.0,515.2 L816.3,523.4 L816.6,531.7 L817.0,540.2 L817.3,549.0 L817.7,558.3 L818.1,568.1 L818.4,578.7 L818.8,590.0 L819.5,613.0 L820.2,638.9 L821.0,667.3 L821.8,697.5 L822.6,729.2 L823.4,761.7 L824.2,794.6 L825.1,827.2 L826.0,859.2 L826.9,890.0 L827.9,920.8 L828.9,952.7 L829.9,985.4 L831.0,1018.2 L832.1,1050.7 L833.2,1082.3 L834.3,1112.6 L835.3,1141.0 L836.4,1166.9 L837.3,1190.0 L837.8,1201.5 L838.3,1212.1 L838.7,1222.1 L839.2,1231.5 L839.6,1240.5 L840.1,1249.1 L840.5,1257.6 L841.0,1265.9 L841.5,1274.2 L842.0,1282.7 L842.5,1290.1 L842.9,1297.4 L843.4,1304.7 L843.9,1311.8 L844.4,1318.8 L844.9,1325.8 L845.5,1332.5 L846.0,1339.2 L846.5,1345.7 L847.0,1352.0 L847.4,1357.1 L847.8,1362.2 L848.2,1367.2 L848.6,1372.1 L849.0,1376.9 L849.4,1381.6 L849.9,1386.1 L850.3,1390.4 L850.7,1394.6 L851.2,1398.5 L851.5,1401.1 L851.8,1403.5 L852.1,1405.8 L852.4,1408.1 L852.7,1410.2 L853.1,1412.4 L853.4,1414.5 L853.8,1416.6 L854.2,1418.8 L854.7,1421.0 L855.2,1423.4 L855.8,1425.8 L856.4,1428.3 L857.0,1430.8 L857.6,1433.3 L858.3,1435.7 L859.0,1438.1 L859.8,1440.5 L860.7,1442.7 L861.6,1444.8 L862.5,1446.6 L863.4,1448.3 L864.4,1450.0 L865.4,1451.7 L866.5,1453.3 L867.6,1454.8 L868.7,1456.2 L869.8,1457.6 L870.9,1458.9 L872.0,1460.0 L872.8,1460.7 L873.6,1461.4 L874.4,1462.0 L875.2,1462.6 L876.0,1463.1 L876.8,1463.6 L877.6,1464.1 L878.4,1464.5 L879.2,1465.0 L880.0,1465.5 L880.8,1466.0 L881.6,1466.5 L882.4,1466.9 L883.2,1467.4 L884.0,1467.8 L884.8,1468.3 L885.6,1468.7 L886.4,1469.2 L887.2,1469.6 L888.0,1470.0 L888.7,1470.4 L889.4,1470.8 L890.1,1471.1 L890.7,1471.5 L891.4,1471.9 L892.1,1472.2 L892.7,1472.5 L893.5,1472.9 L894.2,1473.2 L895.0,1473.5 L896.0,1473.9 L897.1,1474.2 L898.1,1474.6 L899.2,1474.9 L900.4,1475.2 L901.6,1475.5 L902.8,1475.7 L904.1,1476.0 L905.5,1476.2 L907.0,1476.4 L909.7,1476.7 L912.7,1476.9 L916.1,1477.0 L919.6,1477.1 L923.2,1477.2 L926.9,1477.2 L930.4,1477.2 L933.9,1477.2 L937.1,1477.2 L940.0,1477.2 L941.8,1477.2 L943.6,1477.2 L945.2,1477.2 L946.8,1477.2 L948.4,1477.2 L949.9,1477.2 L951.4,1477.2 L952.9,1477.2 L954.4,1477.2 L956.0,1477.2 L956.0,1477.2 L957.5,1479.8 L985.0,1479.8 L985.0,1479.8 L985.5,1479.6 L986.0,1479.5 L986.5,1479.4 L987.0,1479.2 L987.5,1479.1 L988.0,1478.9 L988.5,1478.8 L989.0,1478.6 L989.5,1478.4 L990.0,1478.2 L990.6,1477.9 L991.3,1477.7 L991.9,1477.4 L992.6,1477.1 L993.3,1476.8 L993.9,1476.5 L994.6,1476.1 L995.3,1475.7 L996.1,1475.3 L996.8,1474.8 L997.9,1474.0 L999.2,1473.2 L1000.5,1472.2 L1001.8,1471.2 L1003.1,1470.1 L1004.4,1469.0 L1005.7,1467.8 L1007.0,1466.6 L1008.1,1465.4 L1009.2,1464.2 L1010.1,1463.1 L1011.0,1461.9 L1011.8,1460.7 L1012.5,1459.5 L1013.2,1458.2 L1013.9,1457.0 L1014.6,1455.7 L1015.3,1454.4 L1015.9,1453.1 L1016.6,1451.8 L1017.3,1450.4 L1018.0,1448.9 L1018.6,1447.4 L1019.3,1445.9 L1019.9,1444.3 L1020.5,1442.8 L1021.1,1441.3 L1021.7,1439.8 L1022.3,1438.3 L1022.9,1436.9 L1023.4,1435.7 L1023.9,1434.4 L1024.4,1433.2 L1024.9,1432.0 L1025.4,1430.7 L1025.9,1429.6 L1026.4,1428.5 L1026.9,1427.4 L1027.3,1426.5 L1027.8,1425.7 L1028.1,1425.3 L1028.3,1424.8 L1028.6,1424.4 L1028.8,1424.0 L1029.1,1423.6 L1029.3,1423.3 L1029.5,1423.0 L1029.8,1422.8 L1030.0,1422.7 L1030.3,1422.6 L1030.6,1422.6 L1030.8,1422.8 L1031.1,1423.0 L1031.4,1423.3 L1031.6,1423.6 L1031.9,1424.0 L1032.2,1424.4 L1032.4,1424.8 L1032.7,1425.2 L1033.0,1425.7 L1033.6,1426.7 L1034.2,1427.8 L1034.8,1429.1 L1035.4,1430.5 L1036.1,1431.9 L1036.7,1433.5 L1037.3,1435.0 L1037.9,1436.5 L1038.5,1438.0 L1039.0,1439.4 L1039.4,1440.7 L1039.8,1441.9 L1040.2,1443.2 L1040.6,1444.4 L1040.9,1445.6 L1041.2,1446.9 L1041.6,1448.1 L1041.9,1449.3 L1042.3,1450.6 L1042.7,1451.8 L1043.1,1453.1 L1043.6,1454.3 L1044.1,1455.6 L1044.5,1456.8 L1045.0,1458.1 L1045.5,1459.3 L1046.0,1460.6 L1046.6,1461.8 L1047.1,1463.0 L1047.7,1464.2 L1048.3,1465.3 L1048.8,1466.5 L1049.4,1467.7 L1050.0,1468.8 L1050.6,1470.0 L1051.3,1471.1 L1051.9,1472.1 L1052.6,1473.1 L1053.3,1474.0 L1054.0,1474.8 L1054.6,1475.3 L1055.1,1475.8 L1055.7,1476.3 L1056.3,1476.7 L1056.9,1477.1 L1057.5,1477.4 L1058.1,1477.8 L1058.8,1478.1 L1059.4,1478.3 L1060.0,1478.6 L1060.6,1478.8 L1061.2,1479.0 L1061.8,1479.1 L1062.4,1479.2 L1063.0,1479.3 L1063.6,1479.4 L1064.2,1479.5 L1064.8,1479.6 L1065.4,1479.7 L1066.0,1479.8 L1147.0,1479.8" fill="none" stroke="#ff00ff" stroke-width="1.7" stroke-linejoin="round"/>
<rect x="957" y="1478.5" width="34" height="2.7" fill="#b400b4"/>
<rect x="1058" y="1478.5" width="89" height="2.7" fill="#b400b4"/>
<rect x="1147" y="1478.5" width="316" height="2.4" fill="#ff78ff"/>
<rect x="1147" y="1480.9" width="316" height="2.7" fill="#ff38ff"/>
<rect x="1157.5" y="1478" width="2.8" height="6" fill="#7a007a"/>
<rect x="1408.3" y="1478" width="2.8" height="6" fill="#7a007a"/>
<rect x="812.9" y="261.0" width="187.8" height="41.6" fill="#fff" stroke="#555" stroke-width="2.4"/>
<text class="lb" x="813.1" y="295.7" font-size="40" textLength="182.1" lengthAdjust="spacingAndGlyphs" fill="#111">Hb S zone</text>
<rect x="803.8" y="302.4" width="2.4" height="4" fill="#222"/>
<rect x="420.8" y="1153.4" width="323.7" height="42.7" fill="#fff" stroke="#111" stroke-width="2.4"/>
<text class="lb" x="421.0" y="1189.1" font-size="40" textLength="320.2" lengthAdjust="spacingAndGlyphs" fill="#111">Hb F or Hb variant</text>
<rect x="580.8" y="1201" width="3.6" height="7.7" fill="#8a8a8a"/>
<rect x="971.2" y="1360.5" width="114.4" height="42.9" fill="#fff" stroke="#111" stroke-width="2.4"/>
<text class="lb" x="974.8" y="1396.0" font-size="40" textLength="108.1" lengthAdjust="spacingAndGlyphs" fill="#111">Hb A2</text>
<rect x="1027.9" y="1405" width="3.8" height="10.8" fill="#8a8a8a"/>
</g>
<g>
<path d="M2283.3,1573.4 V179.6" fill="none" stroke="#cbcbcb" stroke-width="1.4"/><path d="M2283.3,179.6 H3483 M2283.3,1573.4 H3483" fill="none" stroke="#dadada" stroke-width="1.3"/>
<path d="M2489.7,1476.5 L2490.3,1475.9 L2491.1,1475.1 L2491.8,1474.3 L2492.6,1473.4 L2493.3,1472.5 L2494.0,1471.5 L2494.7,1470.4 L2495.4,1469.4 L2496.0,1468.3 L2496.7,1467.2 L2497.3,1466.2 L2497.9,1465.1 L2498.5,1464.1 L2499.1,1463.0 L2499.7,1462.0 L2500.2,1460.9 L2500.7,1459.8 L2501.3,1458.7 L2501.8,1457.5 L2502.3,1456.3 L2502.8,1455.0 L2503.4,1453.3 L2504.0,1451.5 L2504.6,1449.6 L2505.1,1447.7 L2505.6,1445.7 L2506.2,1443.7 L2506.7,1441.6 L2507.2,1439.6 L2507.8,1437.6 L2508.4,1435.6 L2509.0,1433.5 L2509.7,1431.3 L2510.3,1429.1 L2511.0,1426.8 L2511.7,1424.6 L2512.4,1422.4 L2513.1,1420.3 L2513.8,1418.3 L2514.5,1416.4 L2515.3,1414.7 L2515.8,1413.6 L2516.4,1412.5 L2516.9,1411.5 L2517.4,1410.5 L2518.0,1409.6 L2518.5,1408.7 L2519.1,1407.9 L2519.7,1407.1 L2520.3,1406.4 L2520.9,1405.7 L2521.4,1405.2 L2521.8,1404.7 L2522.3,1404.3 L2522.8,1403.9 L2523.3,1403.5 L2523.8,1403.1 L2524.3,1402.8 L2524.8,1402.6 L2525.3,1402.4 L2525.8,1402.4 L2526.3,1402.5 L2526.8,1402.6 L2527.3,1402.8 L2527.8,1403.1 L2528.2,1403.5 L2528.7,1403.9 L2529.2,1404.3 L2529.7,1404.8 L2530.1,1405.2 L2530.6,1405.7 L2531.2,1406.4 L2531.8,1407.1 L2532.4,1407.9 L2532.9,1408.8 L2533.5,1409.7 L2534.0,1410.6 L2534.6,1411.6 L2535.1,1412.6 L2535.6,1413.7 L2536.2,1414.7 L2536.9,1416.1 L2537.6,1417.5 L2538.3,1419.0 L2538.9,1420.6 L2539.6,1422.2 L2540.3,1423.8 L2541.0,1425.4 L2541.7,1427.0 L2542.4,1428.5 L2543.1,1430.0 L2543.8,1431.3 L2544.5,1432.6 L2545.1,1433.9 L2545.8,1435.2 L2546.5,1436.5 L2547.2,1437.7 L2547.9,1438.9 L2548.7,1440.1 L2549.4,1441.3 L2550.1,1442.5 L2550.8,1443.6 L2551.4,1444.6 L2552.1,1445.6 L2552.8,1446.6 L2553.5,1447.6 L2554.2,1448.6 L2554.9,1449.6 L2555.6,1450.5 L2556.3,1451.4 L2557.0,1452.3 L2557.7,1453.1 L2558.3,1453.9 L2559.0,1454.6 L2559.6,1455.4 L2560.3,1456.1 L2561.0,1456.8 L2561.7,1457.4 L2562.4,1458.1 L2563.2,1458.7 L2564.0,1459.2 L2564.9,1459.7 L2565.8,1460.1 L2566.7,1460.5 L2567.7,1460.9 L2568.6,1461.2 L2569.6,1461.5 L2570.6,1461.8 L2571.7,1462.1 L2572.7,1462.4 L2573.7,1462.7 L2574.8,1463.0 L2575.9,1463.3 L2577.0,1463.6 L2578.1,1463.9 L2579.3,1464.2 L2580.4,1464.5 L2581.6,1464.7 L2582.7,1465.0 L2583.7,1465.2 L2584.8,1465.5 L2585.7,1465.7 L2586.5,1465.9 L2587.4,1466.2 L2588.2,1466.4 L2589.0,1466.6 L2589.8,1466.8 L2590.6,1467.0 L2591.5,1467.2 L2592.3,1467.3 L2593.2,1467.5 Z" fill="url(#ho)"/>
<path d="M2613.4,1470.9 L2614.3,1470.8 L2615.1,1470.6 L2616.0,1470.4 L2616.8,1470.2 L2617.7,1469.8 L2618.5,1469.5 L2619.3,1469.1 L2620.1,1468.7 L2620.8,1468.2 L2621.6,1467.6 L2622.3,1467.0 L2623.1,1466.3 L2623.8,1465.6 L2624.5,1464.8 L2625.1,1464.0 L2625.8,1463.1 L2626.5,1462.3 L2627.1,1461.4 L2627.8,1460.6 L2628.5,1459.7 L2629.2,1458.8 L2629.9,1457.9 L2630.6,1456.9 L2631.3,1456.0 L2632.0,1455.0 L2632.7,1454.0 L2633.4,1453.0 L2634.0,1452.0 L2634.7,1450.9 L2635.4,1449.6 L2636.2,1448.3 L2636.9,1446.9 L2637.6,1445.5 L2638.2,1444.1 L2638.9,1442.6 L2639.6,1441.2 L2640.3,1439.8 L2641.0,1438.4 L2641.7,1437.0 L2642.4,1435.7 L2643.1,1434.3 L2643.8,1433.0 L2644.5,1431.6 L2645.2,1430.3 L2645.9,1429.0 L2646.6,1427.7 L2647.3,1426.5 L2647.9,1425.5 L2648.6,1424.5 L2649.0,1423.9 L2649.4,1423.4 L2649.8,1422.9 L2650.2,1422.4 L2650.6,1422.0 L2650.9,1421.6 L2651.3,1421.2 L2651.7,1420.8 L2652.1,1420.5 L2652.5,1420.2 L2652.8,1420.0 L2653.1,1419.8 L2653.4,1419.6 L2653.7,1419.4 L2654.0,1419.3 L2654.4,1419.1 L2654.7,1419.0 L2655.0,1419.0 L2655.3,1418.9 L2655.6,1418.9 L2655.9,1418.9 L2656.2,1419.0 L2656.5,1419.1 L2656.8,1419.2 L2657.1,1419.4 L2657.4,1419.6 L2657.7,1419.8 L2658.0,1420.0 L2658.3,1420.2 L2658.6,1420.4 L2658.9,1420.6 L2659.1,1420.8 L2659.4,1421.0 L2659.6,1421.3 L2659.9,1421.5 L2660.1,1421.8 L2660.4,1422.1 L2660.6,1422.4 L2660.8,1422.7 L2661.1,1423.1 L2661.6,1424.0 L2662.2,1425.0 L2662.7,1426.1 L2663.3,1427.4 L2663.8,1428.7 L2664.4,1430.1 L2665.0,1431.5 L2665.6,1432.9 L2666.1,1434.3 L2666.7,1435.6 L2667.3,1436.9 L2667.8,1438.1 L2668.4,1439.4 L2668.9,1440.7 L2669.5,1442.0 L2670.0,1443.2 L2670.6,1444.5 L2671.1,1445.7 L2671.7,1446.9 L2672.3,1448.1 L2672.8,1449.1 L2673.4,1450.2 L2673.9,1451.2 L2674.4,1452.2 L2674.9,1453.3 L2675.5,1454.2 L2676.0,1455.2 L2676.6,1456.1 L2677.2,1457.0 L2677.8,1457.8 L2678.3,1458.5 L2678.8,1459.2 L2679.4,1459.8 L2679.9,1460.5 L2680.5,1461.1 L2681.0,1461.6 L2681.6,1462.2 L2682.2,1462.6 L2682.8,1463.1 L2683.4,1463.4 L2683.9,1463.6 L2684.4,1463.8 L2685.0,1464.0 L2685.5,1464.1 L2686.1,1464.1 L2686.6,1464.2 L2687.2,1464.2 L2687.7,1464.2 L2688.3,1464.2 L2688.9,1464.2 L2689.6,1464.2 L2690.3,1464.1 L2691.0,1464.1 L2691.8,1464.0 L2692.5,1463.9 L2693.3,1463.8 L2694.0,1463.6 L2694.7,1463.4 L2695.3,1463.1 L2695.9,1462.7 L2696.5,1462.2 L2697.0,1461.6 L2697.4,1461.0 L2697.9,1460.2 L2698.2,1459.5 L2698.6,1458.6 L2699.0,1457.8 L2699.3,1456.9 L2699.6,1455.9 L2700.0,1455.0 L2700.5,1453.6 L2701.0,1452.1 L2701.4,1450.5 L2701.9,1448.9 L2702.3,1447.1 L2702.7,1445.4 L2703.1,1443.6 L2703.5,1441.8 L2703.8,1440.1 L2704.2,1438.4 L2704.5,1436.7 L2704.9,1435.1 L2705.2,1433.5 L2705.5,1431.8 L2705.7,1430.2 L2706.0,1428.5 L2706.3,1426.9 L2706.5,1425.2 L2706.8,1423.4 L2707.0,1421.7 L2707.3,1419.7 L2707.5,1417.7 L2707.7,1415.6 L2707.9,1413.5 L2708.1,1411.4 L2708.3,1409.3 L2708.5,1407.1 L2708.7,1405.0 L2708.9,1402.9 L2709.1,1400.8 L2709.3,1398.7 L2709.5,1396.6 L2709.8,1394.6 L2710.0,1392.5 L2710.2,1390.4 L2710.4,1388.3 L2710.6,1386.3 L2710.8,1384.2 L2711.0,1382.1 L2711.2,1380.0 L2711.4,1377.9 L2711.5,1376.0 L2711.6,1374.1 L2711.7,1372.2 L2711.8,1370.2 L2711.9,1368.2 L2712.0,1366.1 L2712.1,1363.8 L2712.2,1361.4 L2712.3,1358.7 L2712.5,1352.5 L2712.7,1345.0 L2712.9,1336.7 L2713.2,1327.7 L2713.4,1318.4 L2713.6,1309.0 L2713.9,1299.9 L2714.1,1291.4 L2714.4,1283.6 L2714.7,1277.0 L2714.9,1273.7 L2715.1,1270.8 L2715.3,1268.1 L2715.5,1265.5 L2715.7,1263.1 L2715.9,1260.7 L2716.2,1258.2 L2716.4,1255.7 L2716.6,1253.0 L2716.8,1250.0 L2717.1,1245.8 L2717.4,1241.6 L2717.7,1237.3 L2718.0,1232.9 L2718.3,1228.3 L2718.6,1223.4 L2718.9,1218.2 L2719.2,1212.6 L2719.4,1206.6 L2719.7,1200.0 L2720.3,1183.1 L2720.8,1163.0 L2721.3,1140.3 L2721.7,1115.5 L2722.1,1089.4 L2722.6,1062.4 L2723.0,1035.3 L2723.4,1008.5 L2723.8,982.7 L2724.3,958.4 L2724.8,936.6 L2725.2,914.6 L2725.7,892.4 L2726.2,870.4 L2726.7,848.7 L2727.2,827.4 L2727.6,806.7 L2728.1,786.8 L2728.4,767.8 L2728.8,750.0 L2729.0,738.3 L2729.2,727.2 L2729.4,716.6 L2729.6,706.4 L2729.7,696.5 L2729.9,686.7 L2730.0,677.0 L2730.2,667.3 L2730.3,657.4 L2730.5,647.3 L2730.7,636.9 L2730.8,626.5 L2731.0,616.1 L2731.1,605.6 L2731.2,595.2 L2731.4,584.7 L2731.6,574.3 L2731.7,563.9 L2732.0,553.4 L2732.2,543.0 L2732.5,532.5 L2732.8,522.0 L2733.1,511.3 L2733.4,500.7 L2733.8,490.1 L2734.1,479.6 L2734.5,469.1 L2734.9,458.9 L2735.3,448.8 L2735.7,439.0 L2736.1,430.5 L2736.5,421.9 L2736.8,413.2 L2737.3,404.7 L2737.7,396.3 L2738.1,388.1 L2738.5,380.4 L2738.9,373.0 L2739.4,366.2 L2739.8,360.0 L2740.1,356.4 L2740.3,352.7 L2740.6,349.0 L2740.8,345.3 L2741.1,341.9 L2741.4,338.9 L2741.6,336.3 L2741.9,334.3 L2742.1,333.0 L2742.4,332.5 L2742.6,333.0 L2742.9,334.3 L2743.1,336.3 L2743.3,338.9 L2743.6,341.9 L2743.8,345.3 L2744.0,349.0 L2744.3,352.7 L2744.5,356.4 L2744.8,360.0 L2745.3,366.2 L2745.9,373.0 L2746.5,380.4 L2747.2,388.1 L2747.9,396.3 L2748.5,404.7 L2749.2,413.2 L2749.9,421.8 L2750.5,430.5 L2751.0,439.0 L2751.5,449.1 L2752.0,459.8 L2752.4,470.9 L2752.8,482.2 L2753.2,493.6 L2753.5,504.7 L2753.9,515.4 L2754.4,525.5 L2754.9,534.8 L2755.5,543.0 L2755.9,547.3 L2756.3,551.3 L2756.7,555.1 L2757.1,558.6 L2757.5,562.0 L2758.0,565.3 L2758.5,568.5 L2759.0,571.6 L2759.5,574.8 L2760.0,577.9 L2760.5,580.7 L2761.0,583.8 L2761.5,587.0 L2762.0,590.2 L2762.5,593.3 L2763.0,596.1 L2763.6,598.6 L2764.1,600.5 L2764.7,601.7 L2765.2,602.2 L2765.5,602.1 L2765.8,601.6 L2766.2,600.9 L2766.5,600.0 L2766.8,599.0 L2767.2,597.9 L2767.5,596.8 L2767.8,595.8 L2768.2,594.8 L2768.5,594.0 L2768.8,593.4 L2769.0,592.7 L2769.3,592.1 L2769.6,591.4 L2769.9,590.8 L2770.1,590.2 L2770.4,589.7 L2770.7,589.3 L2770.9,589.1 L2771.2,589.0 L2771.5,589.1 L2771.7,589.3 L2772.0,589.7 L2772.3,590.1 L2772.6,590.6 L2772.8,591.3 L2773.1,591.9 L2773.3,592.6 L2773.6,593.3 L2773.8,594.0 L2774.2,595.3 L2774.5,596.8 L2774.8,598.5 L2775.0,600.3 L2775.3,602.2 L2775.5,604.2 L2775.7,606.2 L2775.9,608.3 L2776.2,610.4 L2776.4,612.6 L2776.8,615.6 L2777.1,618.7 L2777.5,622.0 L2777.8,625.4 L2778.2,628.8 L2778.5,632.4 L2778.9,636.0 L2779.2,639.7 L2779.5,643.5 L2779.8,647.3 L2780.1,652.1 L2780.4,657.1 L2780.7,662.2 L2780.9,667.4 L2781.1,672.7 L2781.4,678.1 L2781.6,683.5 L2781.8,688.9 L2782.0,694.2 L2782.3,699.4 L2782.6,704.3 L2782.8,709.0 L2783.1,713.6 L2783.3,718.0 L2783.6,722.6 L2783.9,727.3 L2784.1,732.3 L2784.4,737.7 L2784.7,743.5 L2785.0,750.0 L2785.6,765.0 L2786.3,782.4 L2787.1,801.6 L2787.8,822.4 L2788.6,844.4 L2789.4,867.1 L2790.2,890.3 L2791.0,913.5 L2791.9,936.3 L2792.7,958.4 L2793.6,982.7 L2794.7,1008.5 L2795.7,1035.3 L2796.8,1062.4 L2797.9,1089.4 L2799.0,1115.5 L2800.0,1140.3 L2800.9,1163.0 L2801.7,1183.1 L2802.4,1200.0 L2802.6,1206.5 L2802.9,1212.3 L2803.0,1217.5 L2803.2,1222.3 L2803.4,1226.9 L2803.5,1231.2 L2803.7,1235.6 L2803.8,1240.1 L2804.1,1244.9 L2804.3,1250.0 L2804.6,1256.4 L2805.0,1263.0 L2805.4,1269.7 L2805.8,1276.6 L2806.2,1283.5 L2806.6,1290.5 L2807.1,1297.5 L2807.5,1304.4 L2808.0,1311.3 L2808.4,1318.0 L2808.8,1324.5 L2809.2,1331.1 L2809.6,1337.9 L2810.0,1344.6 L2810.4,1351.3 L2810.9,1357.7 L2811.3,1363.9 L2811.7,1369.8 L2812.1,1375.2 L2812.6,1380.0 L2812.9,1382.5 L2813.1,1384.9 L2813.4,1387.1 L2813.7,1389.1 L2814.0,1391.1 L2814.3,1393.0 L2814.6,1394.9 L2814.8,1396.8 L2815.1,1398.8 L2815.4,1400.8 L2815.7,1402.9 L2816.0,1405.0 L2816.2,1407.1 L2816.5,1409.3 L2816.8,1411.4 L2817.1,1413.5 L2817.3,1415.6 L2817.6,1417.7 L2817.9,1419.7 L2818.2,1421.7 L2818.5,1423.4 L2818.7,1425.2 L2819.0,1426.9 L2819.3,1428.5 L2819.6,1430.2 L2819.8,1431.8 L2820.1,1433.5 L2820.4,1435.1 L2820.7,1436.7 L2821.0,1438.4 L2821.3,1440.1 L2821.6,1441.7 L2821.9,1443.4 L2822.1,1445.1 L2822.4,1446.7 L2822.7,1448.4 L2823.1,1450.0 L2823.4,1451.7 L2823.8,1453.3 L2824.2,1455.0 L2824.6,1456.7 L2825.1,1458.5 L2825.6,1460.2 L2826.1,1462.0 L2826.6,1463.8 L2827.1,1465.5 L2827.7,1467.2 L2828.3,1468.8 L2829.0,1470.3 L2829.7,1471.7 L2830.3,1472.7 L2830.9,1473.7 L2831.6,1474.6 L2832.3,1475.5 L2833.0,1476.3 L2833.7,1477.1 L2834.5,1477.9 L2835.2,1478.6 L2835.9,1479.3 L2836.7,1480.0 L2837.4,1480.6 L2838.0,1481.1 L2838.7,1481.6 L2839.3,1482.1 L2840.0,1482.6 L2840.7,1483.1 L2841.4,1483.5 L2842.1,1483.9 L2842.9,1484.2 L2843.6,1484.5 L2844.4,1484.8 L2845.2,1485.0 L2845.9,1485.1 L2846.8,1485.2 L2847.6,1485.3 L2848.4,1485.4 L2849.3,1485.5 L2850.2,1485.5 L2851.1,1485.5 L2852.0,1485.6 L2853.3,1485.7 L2854.6,1485.8 L2856.0,1485.8 L2857.5,1485.9 L2859.0,1485.9 L2860.4,1485.9 L2861.9,1485.9 L2863.3,1485.9 L2864.7,1485.8 L2866.0,1485.6 L2867.1,1485.4 L2868.1,1485.3 L2869.2,1485.1 L2870.2,1484.9 L2871.2,1484.7 L2872.2,1484.4 L2873.1,1484.1 L2874.0,1483.8 L2874.8,1483.3 L2875.6,1482.8 L2876.3,1482.2 L2877.0,1481.5 L2877.6,1480.8 L2878.1,1480.0 L2878.7,1479.2 L2879.2,1478.3 L2879.6,1477.4 L2880.1,1476.4 L2880.6,1475.5 L2881.1,1474.5 L2881.7,1473.3 L2882.3,1472.0 L2882.9,1470.7 L2883.4,1469.3 L2884.0,1467.9 L2884.5,1466.4 L2885.1,1465.0 L2885.6,1463.5 L2886.2,1462.0 L2886.7,1460.6 L2887.3,1459.1 L2887.8,1457.5 L2888.4,1456.0 L2888.9,1454.4 L2889.5,1452.8 L2890.0,1451.3 L2890.6,1449.7 L2891.1,1448.2 L2891.7,1446.7 L2892.3,1445.3 L2892.8,1444.1 L2893.4,1442.9 L2893.9,1441.7 L2894.5,1440.5 L2895.0,1439.3 L2895.6,1438.2 L2896.1,1437.1 L2896.7,1436.1 L2897.2,1435.1 L2897.8,1434.2 L2898.2,1433.6 L2898.6,1433.0 L2899.0,1432.4 L2899.4,1431.9 L2899.8,1431.4 L2900.2,1430.9 L2900.6,1430.4 L2901.0,1430.0 L2901.4,1429.6 L2901.8,1429.3 L2902.1,1429.1 L2902.4,1428.9 L2902.7,1428.7 L2903.0,1428.5 L2903.3,1428.3 L2903.6,1428.2 L2903.9,1428.0 L2904.2,1428.0 L2904.5,1427.9 L2904.8,1427.9 L2905.1,1427.9 L2905.4,1428.0 L2905.7,1428.1 L2906.0,1428.3 L2906.2,1428.4 L2906.5,1428.6 L2906.8,1428.8 L2907.1,1429.1 L2907.3,1429.3 L2907.6,1429.5 L2907.9,1429.8 L2908.2,1430.0 L2908.4,1430.3 L2908.7,1430.6 L2909.0,1430.9 L2909.2,1431.2 L2909.5,1431.6 L2909.8,1431.9 L2910.0,1432.3 L2910.3,1432.8 L2910.8,1433.8 L2911.4,1434.9 L2911.9,1436.2 L2912.5,1437.6 L2913.1,1439.0 L2913.7,1440.6 L2914.2,1442.1 L2914.8,1443.7 L2915.4,1445.2 L2915.9,1446.7 L2916.5,1448.3 L2917.0,1450.0 L2917.6,1451.6 L2918.1,1453.3 L2918.6,1455.1 L2919.2,1456.8 L2919.7,1458.5 L2920.3,1460.1 L2920.8,1461.8 L2921.4,1463.4 L2921.9,1464.9 L2922.5,1466.4 L2923.0,1467.9 L2923.5,1469.4 L2924.0,1470.8 L2924.6,1472.3 L2925.1,1473.6 L2925.7,1475.0 L2926.3,1476.2 L2927.0,1477.3 L2927.5,1478.1 L2928.0,1478.8 L2928.6,1479.6 L2929.1,1480.3 L2929.7,1480.9 L2930.2,1481.5 L2930.8,1482.1 L2931.4,1482.6 L2932.0,1483.1 L2932.6,1483.5 L2933.1,1483.8 L2933.7,1484.0 L2934.2,1484.2 L2934.8,1484.4 L2935.3,1484.5 L2935.9,1484.7 L2936.4,1484.7 L2937.0,1484.8 L2937.6,1484.9 L2938.1,1484.9 L2858,1485.6 L2688.9,1464.2 Z" fill="url(#hg)"/>
<path d="M2942.0,1484.5 L2942.5,1484.4 L2943.0,1484.2 L2943.5,1484.0 L2944.0,1483.8 L2944.5,1483.6 L2944.9,1483.4 L2945.4,1483.1 L2945.9,1482.8 L2946.4,1482.5 L2946.8,1482.2 L2947.3,1481.8 L2947.8,1481.4 L2948.5,1480.8 L2949.2,1480.1 L2949.9,1479.3 L2950.6,1478.5 L2951.3,1477.6 L2952.0,1476.7 L2952.7,1475.8 L2953.4,1474.9 L2954.1,1474.0 L2954.8,1473.1 L2955.5,1472.2 L2956.2,1471.2 L2956.9,1470.3 L2957.6,1469.3 L2958.3,1468.3 L2959.0,1467.3 L2959.6,1466.3 L2960.3,1465.4 L2961.0,1464.4 L2961.7,1463.4 L2962.4,1462.4 L2963.1,1461.4 L2963.8,1460.3 L2964.5,1459.3 L2965.2,1458.2 L2965.9,1457.2 L2966.6,1456.2 L2967.3,1455.3 L2968.0,1454.5 L2968.7,1453.7 L2969.2,1453.2 L2969.7,1452.7 L2970.2,1452.2 L2970.6,1451.8 L2971.1,1451.4 L2971.6,1451.0 L2972.1,1450.7 L2972.6,1450.4 L2973.0,1450.1 L2973.5,1449.8 L2973.9,1449.6 L2974.2,1449.5 L2974.6,1449.3 L2974.9,1449.2 L2975.3,1449.1 L2975.6,1449.0 L2976.0,1448.9 L2976.3,1448.8 L2976.7,1448.8 L2977.0,1448.8 L2977.4,1448.8 L2977.7,1448.8 L2978.1,1448.9 L2978.4,1449.0 L2978.8,1449.0 L2979.1,1449.2 L2979.5,1449.3 L2979.8,1449.4 L2980.2,1449.6 L2980.5,1449.8 L2980.9,1450.1 L2981.2,1450.4 L2981.6,1450.7 L2981.9,1451.0 L2982.3,1451.4 L2982.6,1451.8 L2983.0,1452.3 L2983.3,1452.7 L2983.6,1453.2 L2984.0,1453.7 L2984.5,1454.5 L2985.1,1455.3 L2985.6,1456.3 L2986.1,1457.3 L2986.6,1458.3 L2987.2,1459.3 L2987.7,1460.4 L2988.3,1461.4 L2988.9,1462.4 L2989.5,1463.4 L2990.1,1464.4 L2990.8,1465.4 L2991.5,1466.3 L2992.2,1467.3 L2992.9,1468.3 L2993.6,1469.3 L2994.3,1470.2 L2995.0,1471.2 L2995.8,1472.1 L2996.5,1473.1 L2997.3,1474.1 L2998.1,1475.1 L2998.9,1476.1 L2999.7,1477.1 L3000.5,1478.2 L3001.4,1479.1 L3002.2,1480.1 L3003.1,1481.1 L3003.9,1481.9 L3004.8,1482.8 L3005.6,1483.5 L3006.4,1484.3 L3007.3,1485.0 L3008.1,1485.6 L3009.0,1486.3 L3009.8,1486.9 L3010.7,1487.5 L3011.5,1488.1 L3012.4,1488.6 L3013.2,1489.1 L3013.9,1489.5 L3014.6,1489.8 L3015.3,1490.2 L3015.9,1490.5 L3016.6,1490.7 L3017.3,1491.0 L3018.0,1491.2 L3018.7,1491.5 L3019.4,1491.7 L3020.1,1491.9 L3020.9,1492.1 L3021.8,1492.3 L3022.6,1492.5 Z" fill="url(#hy)"/>
<rect x="2283.3" y="1494.5" width="1159" height="3" fill="#111"/>
<text class="lb" x="2338.0" y="253.6" font-size="40" textLength="46.0" lengthAdjust="spacingAndGlyphs" fill="#111" font-style="italic">Z8</text>
<rect x="2465.2" y="219.5" width="83.9" height="42.2" fill="#fff" stroke="#444" stroke-width="2.4"/>
<text class="lb" x="2471.8" y="253.6" font-size="40" textLength="73.2" lengthAdjust="spacingAndGlyphs" fill="#111" font-style="italic">Z(F)</text>
<rect x="2607.2" y="219.5" width="88.6" height="42.2" fill="#fff" stroke="#444" stroke-width="2.4"/>
<text class="lb" x="2615.0" y="253.6" font-size="40" textLength="75.0" lengthAdjust="spacingAndGlyphs" fill="#111" font-style="italic">Z(D)</text>
<rect x="2721.8" y="219.5" width="85.8" height="42.2" fill="#fff" stroke="#444" stroke-width="2.4"/>
<text class="lb" x="2729.0" y="253.6" font-size="40" textLength="72.7" lengthAdjust="spacingAndGlyphs" fill="#111" font-style="italic">Z(S)</text>
<rect x="2715.5" y="241.6" width="10.8" height="2.8" fill="#111"/>
<text class="lb" x="2813.4" y="253.6" font-size="40" textLength="74.7" lengthAdjust="spacingAndGlyphs" fill="#111" font-style="italic">Z(E)</text>
<rect x="2907.2" y="219.5" width="107.3" height="42.2" fill="#fff" stroke="#444" stroke-width="2.4"/>
<text class="lb" x="2913.0" y="253.6" font-size="40" textLength="96.0" lengthAdjust="spacingAndGlyphs" fill="#111" font-style="italic">Z(A2)</text>
<text class="lb" x="3024.6" y="253.6" font-size="40" textLength="75.6" lengthAdjust="spacingAndGlyphs" fill="#111" font-style="italic">Z(C)</text>
<text class="lb" x="3205.4" y="253.6" font-size="40" textLength="45.7" lengthAdjust="spacingAndGlyphs" fill="#111" font-style="italic">Z1</text>
<rect x="2297.0" y="217.5" width="2.8" height="1338.2" fill="#111"/>
<rect x="2420.0" y="217.5" width="2.6" height="1338.2" fill="#c6c6c6"/>
<rect x="2422.4" y="217.5" width="2.6" height="1338.2" fill="#6c6c6c"/>
<rect x="2591.0" y="217.5" width="2.8" height="1338.2" fill="#111"/>
<rect x="2711.1" y="217.5" width="2.8" height="1338.2" fill="#111"/>
<rect x="2798.4" y="217.5" width="2.6" height="1338.2" fill="#c6c6c6"/>
<rect x="2800.8" y="217.5" width="2.6" height="1338.2" fill="#6c6c6c"/>
<rect x="2897.0" y="217.5" width="2.8" height="1338.2" fill="#111"/>
<rect x="3019.3" y="217.5" width="2.8" height="1338.2" fill="#111"/>
<rect x="3101.3" y="217.5" width="2.8" height="1338.2" fill="#111"/>
<rect x="3349.6" y="217.5" width="2.6" height="1338.2" fill="#c8c8c8"/>
<rect x="3352.0" y="217.5" width="2.6" height="1338.2" fill="#3c3c3c"/>
<rect x="3404.2" y="1497" width="4.8" height="58.7" fill="#999"/>
<rect x="2330.1" y="1489" width="2.8" height="13.7" fill="#2a2a2a"/>
<text class="lb" x="2308.6" y="1535.3" font-size="34.5" textLength="48.1" lengthAdjust="spacingAndGlyphs" fill="#505050">160</text>
<rect x="2485.0" y="1489" width="2.8" height="13.7" fill="#2a2a2a"/>
<text class="lb" x="2463.2" y="1535.3" font-size="34.5" textLength="48.1" lengthAdjust="spacingAndGlyphs" fill="#505050">180</text>
<rect x="2638.4" y="1489" width="2.8" height="13.7" fill="#2a2a2a"/>
<text class="lb" x="2615.6" y="1535.3" font-size="34.5" textLength="49.4" lengthAdjust="spacingAndGlyphs" fill="#505050">200</text>
<rect x="2792.9" y="1489" width="2.8" height="13.7" fill="#2a2a2a"/>
<text class="lb" x="2769.5" y="1535.3" font-size="34.5" textLength="49.4" lengthAdjust="spacingAndGlyphs" fill="#505050">220</text>
<rect x="2947.8" y="1489" width="2.8" height="13.7" fill="#2a2a2a"/>
<text class="lb" x="2925.1" y="1535.3" font-size="34.5" textLength="49.4" lengthAdjust="spacingAndGlyphs" fill="#505050">240</text>
<rect x="3102.6" y="1489" width="2.8" height="13.7" fill="#2a2a2a"/>
<text class="lb" x="3079.3" y="1535.3" font-size="34.5" textLength="49.3" lengthAdjust="spacingAndGlyphs" fill="#505050">260</text>
<rect x="3258.1" y="1489" width="2.8" height="13.7" fill="#2a2a2a"/>
<text class="lb" x="3235.3" y="1535.3" font-size="34.5" textLength="49.4" lengthAdjust="spacingAndGlyphs" fill="#505050">280</text>
<rect x="3411.6" y="1489" width="2.8" height="13.7" fill="#2a2a2a"/>
<text class="lb" x="3388.3" y="1535.3" font-size="34.5" textLength="49.3" lengthAdjust="spacingAndGlyphs" fill="#505050">300</text>
<rect x="2283.3" y="1489.5" width="81" height="5.2" fill="#ff6cff"/>
<path d="M2362.0,1491.5 L2364.0,1490.8 L2376.0,1490.8 L2378.0,1488.2 L2432.0,1488.2 L2434.0,1485.0 L2461.0,1485.0 L2463.0,1482.8 L2474.0,1482.8 L2474.0,1482.8 L2474.4,1482.7 L2474.8,1482.6 L2475.2,1482.4 L2475.6,1482.3 L2476.0,1482.2 L2476.4,1482.1 L2476.8,1482.0 L2477.2,1481.9 L2477.6,1481.7 L2478.0,1481.6 L2478.5,1481.5 L2479.0,1481.3 L2479.5,1481.2 L2480.1,1481.1 L2480.6,1480.9 L2481.2,1480.8 L2481.7,1480.6 L2482.3,1480.4 L2482.8,1480.2 L2483.4,1480.0 L2484.1,1479.7 L2484.8,1479.4 L2485.5,1479.1 L2486.2,1478.7 L2486.9,1478.3 L2487.6,1477.9 L2488.3,1477.5 L2489.0,1477.0 L2489.7,1476.5 L2490.3,1475.9 L2491.1,1475.1 L2491.8,1474.3 L2492.6,1473.4 L2493.3,1472.5 L2494.0,1471.5 L2494.7,1470.4 L2495.4,1469.4 L2496.0,1468.3 L2496.7,1467.2 L2497.3,1466.2 L2497.9,1465.1 L2498.5,1464.1 L2499.1,1463.0 L2499.7,1462.0 L2500.2,1460.9 L2500.7,1459.8 L2501.3,1458.7 L2501.8,1457.5 L2502.3,1456.3 L2502.8,1455.0 L2503.4,1453.3 L2504.0,1451.5 L2504.6,1449.6 L2505.1,1447.7 L2505.6,1445.7 L2506.2,1443.7 L2506.7,1441.6 L2507.2,1439.6 L2507.8,1437.6 L2508.4,1435.6 L2509.0,1433.5 L2509.7,1431.3 L2510.3,1429.1 L2511.0,1426.8 L2511.7,1424.6 L2512.4,1422.4 L2513.1,1420.3 L2513.8,1418.3 L2514.5,1416.4 L2515.3,1414.7 L2515.8,1413.6 L2516.4,1412.5 L2516.9,1411.5 L2517.4,1410.5 L2518.0,1409.6 L2518.5,1408.7 L2519.1,1407.9 L2519.7,1407.1 L2520.3,1406.4 L2520.9,1405.7 L2521.4,1405.2 L2521.8,1404.7 L2522.3,1404.3 L2522.8,1403.9 L2523.3,1403.5 L2523.8,1403.1 L2524.3,1402.8 L2524.8,1402.6 L2525.3,1402.4 L2525.8,1402.4 L2526.3,1402.5 L2526.8,1402.6 L2527.3,1402.8 L2527.8,1403.1 L2528.2,1403.5 L2528.7,1403.9 L2529.2,1404.3 L2529.7,1404.8 L2530.1,1405.2 L2530.6,1405.7 L2531.2,1406.4 L2531.8,1407.1 L2532.4,1407.9 L2532.9,1408.8 L2533.5,1409.7 L2534.0,1410.6 L2534.6,1411.6 L2535.1,1412.6 L2535.6,1413.7 L2536.2,1414.7 L2536.9,1416.1 L2537.6,1417.5 L2538.3,1419.0 L2538.9,1420.6 L2539.6,1422.2 L2540.3,1423.8 L2541.0,1425.4 L2541.7,1427.0 L2542.4,1428.5 L2543.1,1430.0 L2543.8,1431.3 L2544.5,1432.6 L2545.1,1433.9 L2545.8,1435.2 L2546.5,1436.5 L2547.2,1437.7 L2547.9,1438.9 L2548.7,1440.1 L2549.4,1441.3 L2550.1,1442.5 L2550.8,1443.6 L2551.4,1444.6 L2552.1,1445.6 L2552.8,1446.6 L2553.5,1447.6 L2554.2,1448.6 L2554.9,1449.6 L2555.6,1450.5 L2556.3,1451.4 L2557.0,1452.3 L2557.7,1453.1 L2558.3,1453.9 L2559.0,1454.6 L2559.6,1455.4 L2560.3,1456.1 L2561.0,1456.8 L2561.7,1457.4 L2562.4,1458.1 L2563.2,1458.7 L2564.0,1459.2 L2564.9,1459.7 L2565.8,1460.1 L2566.7,1460.5 L2567.7,1460.9 L2568.6,1461.2 L2569.6,1461.5 L2570.6,1461.8 L2571.7,1462.1 L2572.7,1462.4 L2573.7,1462.7 L2574.8,1463.0 L2575.9,1463.3 L2577.0,1463.6 L2578.1,1463.9 L2579.3,1464.2 L2580.4,1464.5 L2581.6,1464.7 L2582.7,1465.0 L2583.7,1465.2 L2584.8,1465.5 L2585.7,1465.7 L2586.5,1465.9 L2587.4,1466.2 L2588.2,1466.4 L2589.0,1466.6 L2589.8,1466.8 L2590.6,1467.0 L2591.5,1467.2 L2592.3,1467.3 L2593.2,1467.5 L2594.2,1467.7 L2595.3,1467.8 L2596.4,1468.0 L2597.5,1468.1 L2598.6,1468.2 L2599.7,1468.3 L2600.8,1468.4 L2601.9,1468.6 L2603.0,1468.7 L2604.0,1468.9 L2604.9,1469.1 L2605.8,1469.3 L2606.7,1469.6 L2607.5,1469.9 L2608.4,1470.2 L2609.2,1470.5 L2610.1,1470.7 L2610.9,1470.9 L2611.8,1471.0 L2612.6,1471.0 L2613.4,1470.9 L2614.3,1470.8 L2615.1,1470.6 L2616.0,1470.4 L2616.8,1470.2 L2617.7,1469.8 L2618.5,1469.5 L2619.3,1469.1 L2620.1,1468.7 L2620.8,1468.2 L2621.6,1467.6 L2622.3,1467.0 L2623.1,1466.3 L2623.8,1465.6 L2624.5,1464.8 L2625.1,1464.0 L2625.8,1463.1 L2626.5,1462.3 L2627.1,1461.4 L2627.8,1460.6 L2628.5,1459.7 L2629.2,1458.8 L2629.9,1457.9 L2630.6,1456.9 L2631.3,1456.0 L2632.0,1455.0 L2632.7,1454.0 L2633.4,1453.0 L2634.0,1452.0 L2634.7,1450.9 L2635.4,1449.6 L2636.2,1448.3 L2636.9,1446.9 L2637.6,1445.5 L2638.2,1444.1 L2638.9,1442.6 L2639.6,1441.2 L2640.3,1439.8 L2641.0,1438.4 L2641.7,1437.0 L2642.4,1435.7 L2643.1,1434.3 L2643.8,1433.0 L2644.5,1431.6 L2645.2,1430.3 L2645.9,1429.0 L2646.6,1427.7 L2647.3,1426.5 L2647.9,1425.5 L2648.6,1424.5 L2649.0,1423.9 L2649.4,1423.4 L2649.8,1422.9 L2650.2,1422.4 L2650.6,1422.0 L2650.9,1421.6 L2651.3,1421.2 L2651.7,1420.8 L2652.1,1420.5 L2652.5,1420.2 L2652.8,1420.0 L2653.1,1419.8 L2653.4,1419.6 L2653.7,1419.4 L2654.0,1419.3 L2654.4,1419.1 L2654.7,1419.0 L2655.0,1419.0 L2655.3,1418.9 L2655.6,1418.9 L2655.9,1418.9 L2656.2,1419.0 L2656.5,1419.1 L2656.8,1419.2 L2657.1,1419.4 L2657.4,1419.6 L2657.7,1419.8 L2658.0,1420.0 L2658.3,1420.2 L2658.6,1420.4 L2658.9,1420.6 L2659.1,1420.8 L2659.4,1421.0 L2659.6,1421.3 L2659.9,1421.5 L2660.1,1421.8 L2660.4,1422.1 L2660.6,1422.4 L2660.8,1422.7 L2661.1,1423.1 L2661.6,1424.0 L2662.2,1425.0 L2662.7,1426.1 L2663.3,1427.4 L2663.8,1428.7 L2664.4,1430.1 L2665.0,1431.5 L2665.6,1432.9 L2666.1,1434.3 L2666.7,1435.6 L2667.3,1436.9 L2667.8,1438.1 L2668.4,1439.4 L2668.9,1440.7 L2669.5,1442.0 L2670.0,1443.2 L2670.6,1444.5 L2671.1,1445.7 L2671.7,1446.9 L2672.3,1448.1 L2672.8,1449.1 L2673.4,1450.2 L2673.9,1451.2 L2674.4,1452.2 L2674.9,1453.3 L2675.5,1454.2 L2676.0,1455.2 L2676.6,1456.1 L2677.2,1457.0 L2677.8,1457.8 L2678.3,1458.5 L2678.8,1459.2 L2679.4,1459.8 L2679.9,1460.5 L2680.5,1461.1 L2681.0,1461.6 L2681.6,1462.2 L2682.2,1462.6 L2682.8,1463.1 L2683.4,1463.4 L2683.9,1463.6 L2684.4,1463.8 L2685.0,1464.0 L2685.5,1464.1 L2686.1,1464.1 L2686.6,1464.2 L2687.2,1464.2 L2687.7,1464.2 L2688.3,1464.2 L2688.9,1464.2 L2689.6,1464.2 L2690.3,1464.1 L2691.0,1464.1 L2691.8,1464.0 L2692.5,1463.9 L2693.3,1463.8 L2694.0,1463.6 L2694.7,1463.4 L2695.3,1463.1 L2695.9,1462.7 L2696.5,1462.2 L2697.0,1461.6 L2697.4,1461.0 L2697.9,1460.2 L2698.2,1459.5 L2698.6,1458.6 L2699.0,1457.8 L2699.3,1456.9 L2699.6,1455.9 L2700.0,1455.0 L2700.5,1453.6 L2701.0,1452.1 L2701.4,1450.5 L2701.9,1448.9 L2702.3,1447.1 L2702.7,1445.4 L2703.1,1443.6 L2703.5,1441.8 L2703.8,1440.1 L2704.2,1438.4 L2704.5,1436.7 L2704.9,1435.1 L2705.2,1433.5 L2705.5,1431.8 L2705.7,1430.2 L2706.0,1428.5 L2706.3,1426.9 L2706.5,1425.2 L2706.8,1423.4 L2707.0,1421.7 L2707.3,1419.7 L2707.5,1417.7 L2707.7,1415.6 L2707.9,1413.5 L2708.1,1411.4 L2708.3,1409.3 L2708.5,1407.1 L2708.7,1405.0 L2708.9,1402.9 L2709.1,1400.8 L2709.3,1398.7 L2709.5,1396.6 L2709.8,1394.6 L2710.0,1392.5 L2710.2,1390.4 L2710.4,1388.3 L2710.6,1386.3 L2710.8,1384.2 L2711.0,1382.1 L2711.2,1380.0 L2711.4,1377.9 L2711.5,1376.0 L2711.6,1374.1 L2711.7,1372.2 L2711.8,1370.2 L2711.9,1368.2 L2712.0,1366.1 L2712.1,1363.8 L2712.2,1361.4 L2712.3,1358.7 L2712.5,1352.5 L2712.7,1345.0 L2712.9,1336.7 L2713.2,1327.7 L2713.4,1318.4 L2713.6,1309.0 L2713.9,1299.9 L2714.1,1291.4 L2714.4,1283.6 L2714.7,1277.0 L2714.9,1273.7 L2715.1,1270.8 L2715.3,1268.1 L2715.5,1265.5 L2715.7,1263.1 L2715.9,1260.7 L2716.2,1258.2 L2716.4,1255.7 L2716.6,1253.0 L2716.8,1250.0 L2717.1,1245.8 L2717.4,1241.6 L2717.7,1237.3 L2718.0,1232.9 L2718.3,1228.3 L2718.6,1223.4 L2718.9,1218.2 L2719.2,1212.6 L2719.4,1206.6 L2719.7,1200.0 L2720.3,1183.1 L2720.8,1163.0 L2721.3,1140.3 L2721.7,1115.5 L2722.1,1089.4 L2722.6,1062.4 L2723.0,1035.3 L2723.4,1008.5 L2723.8,982.7 L2724.3,958.4 L2724.8,936.6 L2725.2,914.6 L2725.7,892.4 L2726.2,870.4 L2726.7,848.7 L2727.2,827.4 L2727.6,806.7 L2728.1,786.8 L2728.4,767.8 L2728.8,750.0 L2729.0,738.3 L2729.2,727.2 L2729.4,716.6 L2729.6,706.4 L2729.7,696.5 L2729.9,686.7 L2730.0,677.0 L2730.2,667.3 L2730.3,657.4 L2730.5,647.3 L2730.7,636.9 L2730.8,626.5 L2731.0,616.1 L2731.1,605.6 L2731.2,595.2 L2731.4,584.7 L2731.6,574.3 L2731.7,563.9 L2732.0,553.4 L2732.2,543.0 L2732.5,532.5 L2732.8,522.0 L2733.1,511.3 L2733.4,500.7 L2733.8,490.1 L2734.1,479.6 L2734.5,469.1 L2734.9,458.9 L2735.3,448.8 L2735.7,439.0 L2736.1,430.5 L2736.5,421.9 L2736.8,413.2 L2737.3,404.7 L2737.7,396.3 L2738.1,388.1 L2738.5,380.4 L2738.9,373.0 L2739.4,366.2 L2739.8,360.0 L2740.1,356.4 L2740.3,352.7 L2740.6,349.0 L2740.8,345.3 L2741.1,341.9 L2741.4,338.9 L2741.6,336.3 L2741.9,334.3 L2742.1,333.0 L2742.4,332.5 L2742.6,333.0 L2742.9,334.3 L2743.1,336.3 L2743.3,338.9 L2743.6,341.9 L2743.8,345.3 L2744.0,349.0 L2744.3,352.7 L2744.5,356.4 L2744.8,360.0 L2745.3,366.2 L2745.9,373.0 L2746.5,380.4 L2747.2,388.1 L2747.9,396.3 L2748.5,404.7 L2749.2,413.2 L2749.9,421.8 L2750.5,430.5 L2751.0,439.0 L2751.5,449.1 L2752.0,459.8 L2752.4,470.9 L2752.8,482.2 L2753.2,493.6 L2753.5,504.7 L2753.9,515.4 L2754.4,525.5 L2754.9,534.8 L2755.5,543.0 L2755.9,547.3 L2756.3,551.3 L2756.7,555.1 L2757.1,558.6 L2757.5,562.0 L2758.0,565.3 L2758.5,568.5 L2759.0,571.6 L2759.5,574.8 L2760.0,577.9 L2760.5,580.7 L2761.0,583.8 L2761.5,587.0 L2762.0,590.2 L2762.5,593.3 L2763.0,596.1 L2763.6,598.6 L2764.1,600.5 L2764.7,601.7 L2765.2,602.2 L2765.5,602.1 L2765.8,601.6 L2766.2,600.9 L2766.5,600.0 L2766.8,599.0 L2767.2,597.9 L2767.5,596.8 L2767.8,595.8 L2768.2,594.8 L2768.5,594.0 L2768.8,593.4 L2769.0,592.7 L2769.3,592.1 L2769.6,591.4 L2769.9,590.8 L2770.1,590.2 L2770.4,589.7 L2770.7,589.3 L2770.9,589.1 L2771.2,589.0 L2771.5,589.1 L2771.7,589.3 L2772.0,589.7 L2772.3,590.1 L2772.6,590.6 L2772.8,591.3 L2773.1,591.9 L2773.3,592.6 L2773.6,593.3 L2773.8,594.0 L2774.2,595.3 L2774.5,596.8 L2774.8,598.5 L2775.0,600.3 L2775.3,602.2 L2775.5,604.2 L2775.7,606.2 L2775.9,608.3 L2776.2,610.4 L2776.4,612.6 L2776.8,615.6 L2777.1,618.7 L2777.5,622.0 L2777.8,625.4 L2778.2,628.8 L2778.5,632.4 L2778.9,636.0 L2779.2,639.7 L2779.5,643.5 L2779.8,647.3 L2780.1,652.1 L2780.4,657.1 L2780.7,662.2 L2780.9,667.4 L2781.1,672.7 L2781.4,678.1 L2781.6,683.5 L2781.8,688.9 L2782.0,694.2 L2782.3,699.4 L2782.6,704.3 L2782.8,709.0 L2783.1,713.6 L2783.3,718.0 L2783.6,722.6 L2783.9,727.3 L2784.1,732.3 L2784.4,737.7 L2784.7,743.5 L2785.0,750.0 L2785.6,765.0 L2786.3,782.4 L2787.1,801.6 L2787.8,822.4 L2788.6,844.4 L2789.4,867.1 L2790.2,890.3 L2791.0,913.5 L2791.9,936.3 L2792.7,958.4 L2793.6,982.7 L2794.7,1008.5 L2795.7,1035.3 L2796.8,1062.4 L2797.9,1089.4 L2799.0,1115.5 L2800.0,1140.3 L2800.9,1163.0 L2801.7,1183.1 L2802.4,1200.0 L2802.6,1206.5 L2802.9,1212.3 L2803.0,1217.5 L2803.2,1222.3 L2803.4,1226.9 L2803.5,1231.2 L2803.7,1235.6 L2803.8,1240.1 L2804.1,1244.9 L2804.3,1250.0 L2804.6,1256.4 L2805.0,1263.0 L2805.4,1269.7 L2805.8,1276.6 L2806.2,1283.5 L2806.6,1290.5 L2807.1,1297.5 L2807.5,1304.4 L2808.0,1311.3 L2808.4,1318.0 L2808.8,1324.5 L2809.2,1331.1 L2809.6,1337.9 L2810.0,1344.6 L2810.4,1351.3 L2810.9,1357.7 L2811.3,1363.9 L2811.7,1369.8 L2812.1,1375.2 L2812.6,1380.0 L2812.9,1382.5 L2813.1,1384.9 L2813.4,1387.1 L2813.7,1389.1 L2814.0,1391.1 L2814.3,1393.0 L2814.6,1394.9 L2814.8,1396.8 L2815.1,1398.8 L2815.4,1400.8 L2815.7,1402.9 L2816.0,1405.0 L2816.2,1407.1 L2816.5,1409.3 L2816.8,1411.4 L2817.1,1413.5 L2817.3,1415.6 L2817.6,1417.7 L2817.9,1419.7 L2818.2,1421.7 L2818.5,1423.4 L2818.7,1425.2 L2819.0,1426.9 L2819.3,1428.5 L2819.6,1430.2 L2819.8,1431.8 L2820.1,1433.5 L2820.4,1435.1 L2820.7,1436.7 L2821.0,1438.4 L2821.3,1440.1 L2821.6,1441.7 L2821.9,1443.4 L2822.1,1445.1 L2822.4,1446.7 L2822.7,1448.4 L2823.1,1450.0 L2823.4,1451.7 L2823.8,1453.3 L2824.2,1455.0 L2824.6,1456.7 L2825.1,1458.5 L2825.6,1460.2 L2826.1,1462.0 L2826.6,1463.8 L2827.1,1465.5 L2827.7,1467.2 L2828.3,1468.8 L2829.0,1470.3 L2829.7,1471.7 L2830.3,1472.7 L2830.9,1473.7 L2831.6,1474.6 L2832.3,1475.5 L2833.0,1476.3 L2833.7,1477.1 L2834.5,1477.9 L2835.2,1478.6 L2835.9,1479.3 L2836.7,1480.0 L2837.4,1480.6 L2838.0,1481.1 L2838.7,1481.6 L2839.3,1482.1 L2840.0,1482.6 L2840.7,1483.1 L2841.4,1483.5 L2842.1,1483.9 L2842.9,1484.2 L2843.6,1484.5 L2844.4,1484.8 L2845.2,1485.0 L2845.9,1485.1 L2846.8,1485.2 L2847.6,1485.3 L2848.4,1485.4 L2849.3,1485.5 L2850.2,1485.5 L2851.1,1485.5 L2852.0,1485.6 L2853.3,1485.7 L2854.6,1485.8 L2856.0,1485.8 L2857.5,1485.9 L2859.0,1485.9 L2860.4,1485.9 L2861.9,1485.9 L2863.3,1485.9 L2864.7,1485.8 L2866.0,1485.6 L2867.1,1485.4 L2868.1,1485.3 L2869.2,1485.1 L2870.2,1484.9 L2871.2,1484.7 L2872.2,1484.4 L2873.1,1484.1 L2874.0,1483.8 L2874.8,1483.3 L2875.6,1482.8 L2876.3,1482.2 L2877.0,1481.5 L2877.6,1480.8 L2878.1,1480.0 L2878.7,1479.2 L2879.2,1478.3 L2879.6,1477.4 L2880.1,1476.4 L2880.6,1475.5 L2881.1,1474.5 L2881.7,1473.3 L2882.3,1472.0 L2882.9,1470.7 L2883.4,1469.3 L2884.0,1467.9 L2884.5,1466.4 L2885.1,1465.0 L2885.6,1463.5 L2886.2,1462.0 L2886.7,1460.6 L2887.3,1459.1 L2887.8,1457.5 L2888.4,1456.0 L2888.9,1454.4 L2889.5,1452.8 L2890.0,1451.3 L2890.6,1449.7 L2891.1,1448.2 L2891.7,1446.7 L2892.3,1445.3 L2892.8,1444.1 L2893.4,1442.9 L2893.9,1441.7 L2894.5,1440.5 L2895.0,1439.3 L2895.6,1438.2 L2896.1,1437.1 L2896.7,1436.1 L2897.2,1435.1 L2897.8,1434.2 L2898.2,1433.6 L2898.6,1433.0 L2899.0,1432.4 L2899.4,1431.9 L2899.8,1431.4 L2900.2,1430.9 L2900.6,1430.4 L2901.0,1430.0 L2901.4,1429.6 L2901.8,1429.3 L2902.1,1429.1 L2902.4,1428.9 L2902.7,1428.7 L2903.0,1428.5 L2903.3,1428.3 L2903.6,1428.2 L2903.9,1428.0 L2904.2,1428.0 L2904.5,1427.9 L2904.8,1427.9 L2905.1,1427.9 L2905.4,1428.0 L2905.7,1428.1 L2906.0,1428.3 L2906.2,1428.4 L2906.5,1428.6 L2906.8,1428.8 L2907.1,1429.1 L2907.3,1429.3 L2907.6,1429.5 L2907.9,1429.8 L2908.2,1430.0 L2908.4,1430.3 L2908.7,1430.6 L2909.0,1430.9 L2909.2,1431.2 L2909.5,1431.6 L2909.8,1431.9 L2910.0,1432.3 L2910.3,1432.8 L2910.8,1433.8 L2911.4,1434.9 L2911.9,1436.2 L2912.5,1437.6 L2913.1,1439.0 L2913.7,1440.6 L2914.2,1442.1 L2914.8,1443.7 L2915.4,1445.2 L2915.9,1446.7 L2916.5,1448.3 L2917.0,1450.0 L2917.6,1451.6 L2918.1,1453.3 L2918.6,1455.1 L2919.2,1456.8 L2919.7,1458.5 L2920.3,1460.1 L2920.8,1461.8 L2921.4,1463.4 L2921.9,1464.9 L2922.5,1466.4 L2923.0,1467.9 L2923.5,1469.4 L2924.0,1470.8 L2924.6,1472.3 L2925.1,1473.6 L2925.7,1475.0 L2926.3,1476.2 L2927.0,1477.3 L2927.5,1478.1 L2928.0,1478.8 L2928.6,1479.6 L2929.1,1480.3 L2929.7,1480.9 L2930.2,1481.5 L2930.8,1482.1 L2931.4,1482.6 L2932.0,1483.1 L2932.6,1483.5 L2933.1,1483.8 L2933.7,1484.0 L2934.2,1484.2 L2934.8,1484.4 L2935.3,1484.5 L2935.9,1484.7 L2936.4,1484.7 L2937.0,1484.8 L2937.6,1484.9 L2938.1,1484.9 L2938.6,1484.9 L2939.1,1484.9 L2939.6,1484.9 L2940.1,1484.9 L2940.6,1484.8 L2941.1,1484.7 L2941.6,1484.6 L2942.0,1484.5 L2942.5,1484.4 L2943.0,1484.2 L2943.5,1484.0 L2944.0,1483.8 L2944.5,1483.6 L2944.9,1483.4 L2945.4,1483.1 L2945.9,1482.8 L2946.4,1482.5 L2946.8,1482.2 L2947.3,1481.8 L2947.8,1481.4 L2948.5,1480.8 L2949.2,1480.1 L2949.9,1479.3 L2950.6,1478.5 L2951.3,1477.6 L2952.0,1476.7 L2952.7,1475.8 L2953.4,1474.9 L2954.1,1474.0 L2954.8,1473.1 L2955.5,1472.2 L2956.2,1471.2 L2956.9,1470.3 L2957.6,1469.3 L2958.3,1468.3 L2959.0,1467.3 L2959.6,1466.3 L2960.3,1465.4 L2961.0,1464.4 L2961.7,1463.4 L2962.4,1462.4 L2963.1,1461.4 L2963.8,1460.3 L2964.5,1459.3 L2965.2,1458.2 L2965.9,1457.2 L2966.6,1456.2 L2967.3,1455.3 L2968.0,1454.5 L2968.7,1453.7 L2969.2,1453.2 L2969.7,1452.7 L2970.2,1452.2 L2970.6,1451.8 L2971.1,1451.4 L2971.6,1451.0 L2972.1,1450.7 L2972.6,1450.4 L2973.0,1450.1 L2973.5,1449.8 L2973.9,1449.6 L2974.2,1449.5 L2974.6,1449.3 L2974.9,1449.2 L2975.3,1449.1 L2975.6,1449.0 L2976.0,1448.9 L2976.3,1448.8 L2976.7,1448.8 L2977.0,1448.8 L2977.4,1448.8 L2977.7,1448.8 L2978.1,1448.9 L2978.4,1449.0 L2978.8,1449.0 L2979.1,1449.2 L2979.5,1449.3 L2979.8,1449.4 L2980.2,1449.6 L2980.5,1449.8 L2980.9,1450.1 L2981.2,1450.4 L2981.6,1450.7 L2981.9,1451.0 L2982.3,1451.4 L2982.6,1451.8 L2983.0,1452.3 L2983.3,1452.7 L2983.6,1453.2 L2984.0,1453.7 L2984.5,1454.5 L2985.1,1455.3 L2985.6,1456.3 L2986.1,1457.3 L2986.6,1458.3 L2987.2,1459.3 L2987.7,1460.4 L2988.3,1461.4 L2988.9,1462.4 L2989.5,1463.4 L2990.1,1464.4 L2990.8,1465.4 L2991.5,1466.3 L2992.2,1467.3 L2992.9,1468.3 L2993.6,1469.3 L2994.3,1470.2 L2995.0,1471.2 L2995.8,1472.1 L2996.5,1473.1 L2997.3,1474.1 L2998.1,1475.1 L2998.9,1476.1 L2999.7,1477.1 L3000.5,1478.2 L3001.4,1479.1 L3002.2,1480.1 L3003.1,1481.1 L3003.9,1481.9 L3004.8,1482.8 L3005.6,1483.5 L3006.4,1484.3 L3007.3,1485.0 L3008.1,1485.6 L3009.0,1486.3 L3009.8,1486.9 L3010.7,1487.5 L3011.5,1488.1 L3012.4,1488.6 L3013.2,1489.1 L3013.9,1489.5 L3014.6,1489.8 L3015.3,1490.2 L3015.9,1490.5 L3016.6,1490.7 L3017.3,1491.0 L3018.0,1491.2 L3018.7,1491.5 L3019.4,1491.7 L3020.1,1491.9 L3020.9,1492.1 L3021.8,1492.3 L3022.6,1492.5 L3023.5,1492.6 L3024.4,1492.7 L3025.3,1492.9 L3026.1,1493.0 L3026.9,1493.1 L3027.7,1493.2 L3028.4,1493.3 L3028.8,1493.4 L3029.2,1493.4 L3029.6,1493.5 L3029.9,1493.5 L3030.3,1493.6 L3030.6,1493.6 L3031.0,1493.7 L3031.3,1493.7 L3031.6,1493.8 L3032.0,1493.8" fill="none" stroke="#ff00ff" stroke-opacity="0.3" stroke-width="4.4" stroke-linejoin="round"/>
<path d="M2362.0,1491.5 L2364.0,1490.8 L2376.0,1490.8 L2378.0,1488.2 L2432.0,1488.2 L2434.0,1485.0 L2461.0,1485.0 L2463.0,1482.8 L2474.0,1482.8 L2474.0,1482.8 L2474.4,1482.7 L2474.8,1482.6 L2475.2,1482.4 L2475.6,1482.3 L2476.0,1482.2 L2476.4,1482.1 L2476.8,1482.0 L2477.2,1481.9 L2477.6,1481.7 L2478.0,1481.6 L2478.5,1481.5 L2479.0,1481.3 L2479.5,1481.2 L2480.1,1481.1 L2480.6,1480.9 L2481.2,1480.8 L2481.7,1480.6 L2482.3,1480.4 L2482.8,1480.2 L2483.4,1480.0 L2484.1,1479.7 L2484.8,1479.4 L2485.5,1479.1 L2486.2,1478.7 L2486.9,1478.3 L2487.6,1477.9 L2488.3,1477.5 L2489.0,1477.0 L2489.7,1476.5 L2490.3,1475.9 L2491.1,1475.1 L2491.8,1474.3 L2492.6,1473.4 L2493.3,1472.5 L2494.0,1471.5 L2494.7,1470.4 L2495.4,1469.4 L2496.0,1468.3 L2496.7,1467.2 L2497.3,1466.2 L2497.9,1465.1 L2498.5,1464.1 L2499.1,1463.0 L2499.7,1462.0 L2500.2,1460.9 L2500.7,1459.8 L2501.3,1458.7 L2501.8,1457.5 L2502.3,1456.3 L2502.8,1455.0 L2503.4,1453.3 L2504.0,1451.5 L2504.6,1449.6 L2505.1,1447.7 L2505.6,1445.7 L2506.2,1443.7 L2506.7,1441.6 L2507.2,1439.6 L2507.8,1437.6 L2508.4,1435.6 L2509.0,1433.5 L2509.7,1431.3 L2510.3,1429.1 L2511.0,1426.8 L2511.7,1424.6 L2512.4,1422.4 L2513.1,1420.3 L2513.8,1418.3 L2514.5,1416.4 L2515.3,1414.7 L2515.8,1413.6 L2516.4,1412.5 L2516.9,1411.5 L2517.4,1410.5 L2518.0,1409.6 L2518.5,1408.7 L2519.1,1407.9 L2519.7,1407.1 L2520.3,1406.4 L2520.9,1405.7 L2521.4,1405.2 L2521.8,1404.7 L2522.3,1404.3 L2522.8,1403.9 L2523.3,1403.5 L2523.8,1403.1 L2524.3,1402.8 L2524.8,1402.6 L2525.3,1402.4 L2525.8,1402.4 L2526.3,1402.5 L2526.8,1402.6 L2527.3,1402.8 L2527.8,1403.1 L2528.2,1403.5 L2528.7,1403.9 L2529.2,1404.3 L2529.7,1404.8 L2530.1,1405.2 L2530.6,1405.7 L2531.2,1406.4 L2531.8,1407.1 L2532.4,1407.9 L2532.9,1408.8 L2533.5,1409.7 L2534.0,1410.6 L2534.6,1411.6 L2535.1,1412.6 L2535.6,1413.7 L2536.2,1414.7 L2536.9,1416.1 L2537.6,1417.5 L2538.3,1419.0 L2538.9,1420.6 L2539.6,1422.2 L2540.3,1423.8 L2541.0,1425.4 L2541.7,1427.0 L2542.4,1428.5 L2543.1,1430.0 L2543.8,1431.3 L2544.5,1432.6 L2545.1,1433.9 L2545.8,1435.2 L2546.5,1436.5 L2547.2,1437.7 L2547.9,1438.9 L2548.7,1440.1 L2549.4,1441.3 L2550.1,1442.5 L2550.8,1443.6 L2551.4,1444.6 L2552.1,1445.6 L2552.8,1446.6 L2553.5,1447.6 L2554.2,1448.6 L2554.9,1449.6 L2555.6,1450.5 L2556.3,1451.4 L2557.0,1452.3 L2557.7,1453.1 L2558.3,1453.9 L2559.0,1454.6 L2559.6,1455.4 L2560.3,1456.1 L2561.0,1456.8 L2561.7,1457.4 L2562.4,1458.1 L2563.2,1458.7 L2564.0,1459.2 L2564.9,1459.7 L2565.8,1460.1 L2566.7,1460.5 L2567.7,1460.9 L2568.6,1461.2 L2569.6,1461.5 L2570.6,1461.8 L2571.7,1462.1 L2572.7,1462.4 L2573.7,1462.7 L2574.8,1463.0 L2575.9,1463.3 L2577.0,1463.6 L2578.1,1463.9 L2579.3,1464.2 L2580.4,1464.5 L2581.6,1464.7 L2582.7,1465.0 L2583.7,1465.2 L2584.8,1465.5 L2585.7,1465.7 L2586.5,1465.9 L2587.4,1466.2 L2588.2,1466.4 L2589.0,1466.6 L2589.8,1466.8 L2590.6,1467.0 L2591.5,1467.2 L2592.3,1467.3 L2593.2,1467.5 L2594.2,1467.7 L2595.3,1467.8 L2596.4,1468.0 L2597.5,1468.1 L2598.6,1468.2 L2599.7,1468.3 L2600.8,1468.4 L2601.9,1468.6 L2603.0,1468.7 L2604.0,1468.9 L2604.9,1469.1 L2605.8,1469.3 L2606.7,1469.6 L2607.5,1469.9 L2608.4,1470.2 L2609.2,1470.5 L2610.1,1470.7 L2610.9,1470.9 L2611.8,1471.0 L2612.6,1471.0 L2613.4,1470.9 L2614.3,1470.8 L2615.1,1470.6 L2616.0,1470.4 L2616.8,1470.2 L2617.7,1469.8 L2618.5,1469.5 L2619.3,1469.1 L2620.1,1468.7 L2620.8,1468.2 L2621.6,1467.6 L2622.3,1467.0 L2623.1,1466.3 L2623.8,1465.6 L2624.5,1464.8 L2625.1,1464.0 L2625.8,1463.1 L2626.5,1462.3 L2627.1,1461.4 L2627.8,1460.6 L2628.5,1459.7 L2629.2,1458.8 L2629.9,1457.9 L2630.6,1456.9 L2631.3,1456.0 L2632.0,1455.0 L2632.7,1454.0 L2633.4,1453.0 L2634.0,1452.0 L2634.7,1450.9 L2635.4,1449.6 L2636.2,1448.3 L2636.9,1446.9 L2637.6,1445.5 L2638.2,1444.1 L2638.9,1442.6 L2639.6,1441.2 L2640.3,1439.8 L2641.0,1438.4 L2641.7,1437.0 L2642.4,1435.7 L2643.1,1434.3 L2643.8,1433.0 L2644.5,1431.6 L2645.2,1430.3 L2645.9,1429.0 L2646.6,1427.7 L2647.3,1426.5 L2647.9,1425.5 L2648.6,1424.5 L2649.0,1423.9 L2649.4,1423.4 L2649.8,1422.9 L2650.2,1422.4 L2650.6,1422.0 L2650.9,1421.6 L2651.3,1421.2 L2651.7,1420.8 L2652.1,1420.5 L2652.5,1420.2 L2652.8,1420.0 L2653.1,1419.8 L2653.4,1419.6 L2653.7,1419.4 L2654.0,1419.3 L2654.4,1419.1 L2654.7,1419.0 L2655.0,1419.0 L2655.3,1418.9 L2655.6,1418.9 L2655.9,1418.9 L2656.2,1419.0 L2656.5,1419.1 L2656.8,1419.2 L2657.1,1419.4 L2657.4,1419.6 L2657.7,1419.8 L2658.0,1420.0 L2658.3,1420.2 L2658.6,1420.4 L2658.9,1420.6 L2659.1,1420.8 L2659.4,1421.0 L2659.6,1421.3 L2659.9,1421.5 L2660.1,1421.8 L2660.4,1422.1 L2660.6,1422.4 L2660.8,1422.7 L2661.1,1423.1 L2661.6,1424.0 L2662.2,1425.0 L2662.7,1426.1 L2663.3,1427.4 L2663.8,1428.7 L2664.4,1430.1 L2665.0,1431.5 L2665.6,1432.9 L2666.1,1434.3 L2666.7,1435.6 L2667.3,1436.9 L2667.8,1438.1 L2668.4,1439.4 L2668.9,1440.7 L2669.5,1442.0 L2670.0,1443.2 L2670.6,1444.5 L2671.1,1445.7 L2671.7,1446.9 L2672.3,1448.1 L2672.8,1449.1 L2673.4,1450.2 L2673.9,1451.2 L2674.4,1452.2 L2674.9,1453.3 L2675.5,1454.2 L2676.0,1455.2 L2676.6,1456.1 L2677.2,1457.0 L2677.8,1457.8 L2678.3,1458.5 L2678.8,1459.2 L2679.4,1459.8 L2679.9,1460.5 L2680.5,1461.1 L2681.0,1461.6 L2681.6,1462.2 L2682.2,1462.6 L2682.8,1463.1 L2683.4,1463.4 L2683.9,1463.6 L2684.4,1463.8 L2685.0,1464.0 L2685.5,1464.1 L2686.1,1464.1 L2686.6,1464.2 L2687.2,1464.2 L2687.7,1464.2 L2688.3,1464.2 L2688.9,1464.2 L2689.6,1464.2 L2690.3,1464.1 L2691.0,1464.1 L2691.8,1464.0 L2692.5,1463.9 L2693.3,1463.8 L2694.0,1463.6 L2694.7,1463.4 L2695.3,1463.1 L2695.9,1462.7 L2696.5,1462.2 L2697.0,1461.6 L2697.4,1461.0 L2697.9,1460.2 L2698.2,1459.5 L2698.6,1458.6 L2699.0,1457.8 L2699.3,1456.9 L2699.6,1455.9 L2700.0,1455.0 L2700.5,1453.6 L2701.0,1452.1 L2701.4,1450.5 L2701.9,1448.9 L2702.3,1447.1 L2702.7,1445.4 L2703.1,1443.6 L2703.5,1441.8 L2703.8,1440.1 L2704.2,1438.4 L2704.5,1436.7 L2704.9,1435.1 L2705.2,1433.5 L2705.5,1431.8 L2705.7,1430.2 L2706.0,1428.5 L2706.3,1426.9 L2706.5,1425.2 L2706.8,1423.4 L2707.0,1421.7 L2707.3,1419.7 L2707.5,1417.7 L2707.7,1415.6 L2707.9,1413.5 L2708.1,1411.4 L2708.3,1409.3 L2708.5,1407.1 L2708.7,1405.0 L2708.9,1402.9 L2709.1,1400.8 L2709.3,1398.7 L2709.5,1396.6 L2709.8,1394.6 L2710.0,1392.5 L2710.2,1390.4 L2710.4,1388.3 L2710.6,1386.3 L2710.8,1384.2 L2711.0,1382.1 L2711.2,1380.0 L2711.4,1377.9 L2711.5,1376.0 L2711.6,1374.1 L2711.7,1372.2 L2711.8,1370.2 L2711.9,1368.2 L2712.0,1366.1 L2712.1,1363.8 L2712.2,1361.4 L2712.3,1358.7 L2712.5,1352.5 L2712.7,1345.0 L2712.9,1336.7 L2713.2,1327.7 L2713.4,1318.4 L2713.6,1309.0 L2713.9,1299.9 L2714.1,1291.4 L2714.4,1283.6 L2714.7,1277.0 L2714.9,1273.7 L2715.1,1270.8 L2715.3,1268.1 L2715.5,1265.5 L2715.7,1263.1 L2715.9,1260.7 L2716.2,1258.2 L2716.4,1255.7 L2716.6,1253.0 L2716.8,1250.0 L2717.1,1245.8 L2717.4,1241.6 L2717.7,1237.3 L2718.0,1232.9 L2718.3,1228.3 L2718.6,1223.4 L2718.9,1218.2 L2719.2,1212.6 L2719.4,1206.6 L2719.7,1200.0 L2720.3,1183.1 L2720.8,1163.0 L2721.3,1140.3 L2721.7,1115.5 L2722.1,1089.4 L2722.6,1062.4 L2723.0,1035.3 L2723.4,1008.5 L2723.8,982.7 L2724.3,958.4 L2724.8,936.6 L2725.2,914.6 L2725.7,892.4 L2726.2,870.4 L2726.7,848.7 L2727.2,827.4 L2727.6,806.7 L2728.1,786.8 L2728.4,767.8 L2728.8,750.0 L2729.0,738.3 L2729.2,727.2 L2729.4,716.6 L2729.6,706.4 L2729.7,696.5 L2729.9,686.7 L2730.0,677.0 L2730.2,667.3 L2730.3,657.4 L2730.5,647.3 L2730.7,636.9 L2730.8,626.5 L2731.0,616.1 L2731.1,605.6 L2731.2,595.2 L2731.4,584.7 L2731.6,574.3 L2731.7,563.9 L2732.0,553.4 L2732.2,543.0 L2732.5,532.5 L2732.8,522.0 L2733.1,511.3 L2733.4,500.7 L2733.8,490.1 L2734.1,479.6 L2734.5,469.1 L2734.9,458.9 L2735.3,448.8 L2735.7,439.0 L2736.1,430.5 L2736.5,421.9 L2736.8,413.2 L2737.3,404.7 L2737.7,396.3 L2738.1,388.1 L2738.5,380.4 L2738.9,373.0 L2739.4,366.2 L2739.8,360.0 L2740.1,356.4 L2740.3,352.7 L2740.6,349.0 L2740.8,345.3 L2741.1,341.9 L2741.4,338.9 L2741.6,336.3 L2741.9,334.3 L2742.1,333.0 L2742.4,332.5 L2742.6,333.0 L2742.9,334.3 L2743.1,336.3 L2743.3,338.9 L2743.6,341.9 L2743.8,345.3 L2744.0,349.0 L2744.3,352.7 L2744.5,356.4 L2744.8,360.0 L2745.3,366.2 L2745.9,373.0 L2746.5,380.4 L2747.2,388.1 L2747.9,396.3 L2748.5,404.7 L2749.2,413.2 L2749.9,421.8 L2750.5,430.5 L2751.0,439.0 L2751.5,449.1 L2752.0,459.8 L2752.4,470.9 L2752.8,482.2 L2753.2,493.6 L2753.5,504.7 L2753.9,515.4 L2754.4,525.5 L2754.9,534.8 L2755.5,543.0 L2755.9,547.3 L2756.3,551.3 L2756.7,555.1 L2757.1,558.6 L2757.5,562.0 L2758.0,565.3 L2758.5,568.5 L2759.0,571.6 L2759.5,574.8 L2760.0,577.9 L2760.5,580.7 L2761.0,583.8 L2761.5,587.0 L2762.0,590.2 L2762.5,593.3 L2763.0,596.1 L2763.6,598.6 L2764.1,600.5 L2764.7,601.7 L2765.2,602.2 L2765.5,602.1 L2765.8,601.6 L2766.2,600.9 L2766.5,600.0 L2766.8,599.0 L2767.2,597.9 L2767.5,596.8 L2767.8,595.8 L2768.2,594.8 L2768.5,594.0 L2768.8,593.4 L2769.0,592.7 L2769.3,592.1 L2769.6,591.4 L2769.9,590.8 L2770.1,590.2 L2770.4,589.7 L2770.7,589.3 L2770.9,589.1 L2771.2,589.0 L2771.5,589.1 L2771.7,589.3 L2772.0,589.7 L2772.3,590.1 L2772.6,590.6 L2772.8,591.3 L2773.1,591.9 L2773.3,592.6 L2773.6,593.3 L2773.8,594.0 L2774.2,595.3 L2774.5,596.8 L2774.8,598.5 L2775.0,600.3 L2775.3,602.2 L2775.5,604.2 L2775.7,606.2 L2775.9,608.3 L2776.2,610.4 L2776.4,612.6 L2776.8,615.6 L2777.1,618.7 L2777.5,622.0 L2777.8,625.4 L2778.2,628.8 L2778.5,632.4 L2778.9,636.0 L2779.2,639.7 L2779.5,643.5 L2779.8,647.3 L2780.1,652.1 L2780.4,657.1 L2780.7,662.2 L2780.9,667.4 L2781.1,672.7 L2781.4,678.1 L2781.6,683.5 L2781.8,688.9 L2782.0,694.2 L2782.3,699.4 L2782.6,704.3 L2782.8,709.0 L2783.1,713.6 L2783.3,718.0 L2783.6,722.6 L2783.9,727.3 L2784.1,732.3 L2784.4,737.7 L2784.7,743.5 L2785.0,750.0 L2785.6,765.0 L2786.3,782.4 L2787.1,801.6 L2787.8,822.4 L2788.6,844.4 L2789.4,867.1 L2790.2,890.3 L2791.0,913.5 L2791.9,936.3 L2792.7,958.4 L2793.6,982.7 L2794.7,1008.5 L2795.7,1035.3 L2796.8,1062.4 L2797.9,1089.4 L2799.0,1115.5 L2800.0,1140.3 L2800.9,1163.0 L2801.7,1183.1 L2802.4,1200.0 L2802.6,1206.5 L2802.9,1212.3 L2803.0,1217.5 L2803.2,1222.3 L2803.4,1226.9 L2803.5,1231.2 L2803.7,1235.6 L2803.8,1240.1 L2804.1,1244.9 L2804.3,1250.0 L2804.6,1256.4 L2805.0,1263.0 L2805.4,1269.7 L2805.8,1276.6 L2806.2,1283.5 L2806.6,1290.5 L2807.1,1297.5 L2807.5,1304.4 L2808.0,1311.3 L2808.4,1318.0 L2808.8,1324.5 L2809.2,1331.1 L2809.6,1337.9 L2810.0,1344.6 L2810.4,1351.3 L2810.9,1357.7 L2811.3,1363.9 L2811.7,1369.8 L2812.1,1375.2 L2812.6,1380.0 L2812.9,1382.5 L2813.1,1384.9 L2813.4,1387.1 L2813.7,1389.1 L2814.0,1391.1 L2814.3,1393.0 L2814.6,1394.9 L2814.8,1396.8 L2815.1,1398.8 L2815.4,1400.8 L2815.7,1402.9 L2816.0,1405.0 L2816.2,1407.1 L2816.5,1409.3 L2816.8,1411.4 L2817.1,1413.5 L2817.3,1415.6 L2817.6,1417.7 L2817.9,1419.7 L2818.2,1421.7 L2818.5,1423.4 L2818.7,1425.2 L2819.0,1426.9 L2819.3,1428.5 L2819.6,1430.2 L2819.8,1431.8 L2820.1,1433.5 L2820.4,1435.1 L2820.7,1436.7 L2821.0,1438.4 L2821.3,1440.1 L2821.6,1441.7 L2821.9,1443.4 L2822.1,1445.1 L2822.4,1446.7 L2822.7,1448.4 L2823.1,1450.0 L2823.4,1451.7 L2823.8,1453.3 L2824.2,1455.0 L2824.6,1456.7 L2825.1,1458.5 L2825.6,1460.2 L2826.1,1462.0 L2826.6,1463.8 L2827.1,1465.5 L2827.7,1467.2 L2828.3,1468.8 L2829.0,1470.3 L2829.7,1471.7 L2830.3,1472.7 L2830.9,1473.7 L2831.6,1474.6 L2832.3,1475.5 L2833.0,1476.3 L2833.7,1477.1 L2834.5,1477.9 L2835.2,1478.6 L2835.9,1479.3 L2836.7,1480.0 L2837.4,1480.6 L2838.0,1481.1 L2838.7,1481.6 L2839.3,1482.1 L2840.0,1482.6 L2840.7,1483.1 L2841.4,1483.5 L2842.1,1483.9 L2842.9,1484.2 L2843.6,1484.5 L2844.4,1484.8 L2845.2,1485.0 L2845.9,1485.1 L2846.8,1485.2 L2847.6,1485.3 L2848.4,1485.4 L2849.3,1485.5 L2850.2,1485.5 L2851.1,1485.5 L2852.0,1485.6 L2853.3,1485.7 L2854.6,1485.8 L2856.0,1485.8 L2857.5,1485.9 L2859.0,1485.9 L2860.4,1485.9 L2861.9,1485.9 L2863.3,1485.9 L2864.7,1485.8 L2866.0,1485.6 L2867.1,1485.4 L2868.1,1485.3 L2869.2,1485.1 L2870.2,1484.9 L2871.2,1484.7 L2872.2,1484.4 L2873.1,1484.1 L2874.0,1483.8 L2874.8,1483.3 L2875.6,1482.8 L2876.3,1482.2 L2877.0,1481.5 L2877.6,1480.8 L2878.1,1480.0 L2878.7,1479.2 L2879.2,1478.3 L2879.6,1477.4 L2880.1,1476.4 L2880.6,1475.5 L2881.1,1474.5 L2881.7,1473.3 L2882.3,1472.0 L2882.9,1470.7 L2883.4,1469.3 L2884.0,1467.9 L2884.5,1466.4 L2885.1,1465.0 L2885.6,1463.5 L2886.2,1462.0 L2886.7,1460.6 L2887.3,1459.1 L2887.8,1457.5 L2888.4,1456.0 L2888.9,1454.4 L2889.5,1452.8 L2890.0,1451.3 L2890.6,1449.7 L2891.1,1448.2 L2891.7,1446.7 L2892.3,1445.3 L2892.8,1444.1 L2893.4,1442.9 L2893.9,1441.7 L2894.5,1440.5 L2895.0,1439.3 L2895.6,1438.2 L2896.1,1437.1 L2896.7,1436.1 L2897.2,1435.1 L2897.8,1434.2 L2898.2,1433.6 L2898.6,1433.0 L2899.0,1432.4 L2899.4,1431.9 L2899.8,1431.4 L2900.2,1430.9 L2900.6,1430.4 L2901.0,1430.0 L2901.4,1429.6 L2901.8,1429.3 L2902.1,1429.1 L2902.4,1428.9 L2902.7,1428.7 L2903.0,1428.5 L2903.3,1428.3 L2903.6,1428.2 L2903.9,1428.0 L2904.2,1428.0 L2904.5,1427.9 L2904.8,1427.9 L2905.1,1427.9 L2905.4,1428.0 L2905.7,1428.1 L2906.0,1428.3 L2906.2,1428.4 L2906.5,1428.6 L2906.8,1428.8 L2907.1,1429.1 L2907.3,1429.3 L2907.6,1429.5 L2907.9,1429.8 L2908.2,1430.0 L2908.4,1430.3 L2908.7,1430.6 L2909.0,1430.9 L2909.2,1431.2 L2909.5,1431.6 L2909.8,1431.9 L2910.0,1432.3 L2910.3,1432.8 L2910.8,1433.8 L2911.4,1434.9 L2911.9,1436.2 L2912.5,1437.6 L2913.1,1439.0 L2913.7,1440.6 L2914.2,1442.1 L2914.8,1443.7 L2915.4,1445.2 L2915.9,1446.7 L2916.5,1448.3 L2917.0,1450.0 L2917.6,1451.6 L2918.1,1453.3 L2918.6,1455.1 L2919.2,1456.8 L2919.7,1458.5 L2920.3,1460.1 L2920.8,1461.8 L2921.4,1463.4 L2921.9,1464.9 L2922.5,1466.4 L2923.0,1467.9 L2923.5,1469.4 L2924.0,1470.8 L2924.6,1472.3 L2925.1,1473.6 L2925.7,1475.0 L2926.3,1476.2 L2927.0,1477.3 L2927.5,1478.1 L2928.0,1478.8 L2928.6,1479.6 L2929.1,1480.3 L2929.7,1480.9 L2930.2,1481.5 L2930.8,1482.1 L2931.4,1482.6 L2932.0,1483.1 L2932.6,1483.5 L2933.1,1483.8 L2933.7,1484.0 L2934.2,1484.2 L2934.8,1484.4 L2935.3,1484.5 L2935.9,1484.7 L2936.4,1484.7 L2937.0,1484.8 L2937.6,1484.9 L2938.1,1484.9 L2938.6,1484.9 L2939.1,1484.9 L2939.6,1484.9 L2940.1,1484.9 L2940.6,1484.8 L2941.1,1484.7 L2941.6,1484.6 L2942.0,1484.5 L2942.5,1484.4 L2943.0,1484.2 L2943.5,1484.0 L2944.0,1483.8 L2944.5,1483.6 L2944.9,1483.4 L2945.4,1483.1 L2945.9,1482.8 L2946.4,1482.5 L2946.8,1482.2 L2947.3,1481.8 L2947.8,1481.4 L2948.5,1480.8 L2949.2,1480.1 L2949.9,1479.3 L2950.6,1478.5 L2951.3,1477.6 L2952.0,1476.7 L2952.7,1475.8 L2953.4,1474.9 L2954.1,1474.0 L2954.8,1473.1 L2955.5,1472.2 L2956.2,1471.2 L2956.9,1470.3 L2957.6,1469.3 L2958.3,1468.3 L2959.0,1467.3 L2959.6,1466.3 L2960.3,1465.4 L2961.0,1464.4 L2961.7,1463.4 L2962.4,1462.4 L2963.1,1461.4 L2963.8,1460.3 L2964.5,1459.3 L2965.2,1458.2 L2965.9,1457.2 L2966.6,1456.2 L2967.3,1455.3 L2968.0,1454.5 L2968.7,1453.7 L2969.2,1453.2 L2969.7,1452.7 L2970.2,1452.2 L2970.6,1451.8 L2971.1,1451.4 L2971.6,1451.0 L2972.1,1450.7 L2972.6,1450.4 L2973.0,1450.1 L2973.5,1449.8 L2973.9,1449.6 L2974.2,1449.5 L2974.6,1449.3 L2974.9,1449.2 L2975.3,1449.1 L2975.6,1449.0 L2976.0,1448.9 L2976.3,1448.8 L2976.7,1448.8 L2977.0,1448.8 L2977.4,1448.8 L2977.7,1448.8 L2978.1,1448.9 L2978.4,1449.0 L2978.8,1449.0 L2979.1,1449.2 L2979.5,1449.3 L2979.8,1449.4 L2980.2,1449.6 L2980.5,1449.8 L2980.9,1450.1 L2981.2,1450.4 L2981.6,1450.7 L2981.9,1451.0 L2982.3,1451.4 L2982.6,1451.8 L2983.0,1452.3 L2983.3,1452.7 L2983.6,1453.2 L2984.0,1453.7 L2984.5,1454.5 L2985.1,1455.3 L2985.6,1456.3 L2986.1,1457.3 L2986.6,1458.3 L2987.2,1459.3 L2987.7,1460.4 L2988.3,1461.4 L2988.9,1462.4 L2989.5,1463.4 L2990.1,1464.4 L2990.8,1465.4 L2991.5,1466.3 L2992.2,1467.3 L2992.9,1468.3 L2993.6,1469.3 L2994.3,1470.2 L2995.0,1471.2 L2995.8,1472.1 L2996.5,1473.1 L2997.3,1474.1 L2998.1,1475.1 L2998.9,1476.1 L2999.7,1477.1 L3000.5,1478.2 L3001.4,1479.1 L3002.2,1480.1 L3003.1,1481.1 L3003.9,1481.9 L3004.8,1482.8 L3005.6,1483.5 L3006.4,1484.3 L3007.3,1485.0 L3008.1,1485.6 L3009.0,1486.3 L3009.8,1486.9 L3010.7,1487.5 L3011.5,1488.1 L3012.4,1488.6 L3013.2,1489.1 L3013.9,1489.5 L3014.6,1489.8 L3015.3,1490.2 L3015.9,1490.5 L3016.6,1490.7 L3017.3,1491.0 L3018.0,1491.2 L3018.7,1491.5 L3019.4,1491.7 L3020.1,1491.9 L3020.9,1492.1 L3021.8,1492.3 L3022.6,1492.5 L3023.5,1492.6 L3024.4,1492.7 L3025.3,1492.9 L3026.1,1493.0 L3026.9,1493.1 L3027.7,1493.2 L3028.4,1493.3 L3028.8,1493.4 L3029.2,1493.4 L3029.6,1493.5 L3029.9,1493.5 L3030.3,1493.6 L3030.6,1493.6 L3031.0,1493.7 L3031.3,1493.7 L3031.6,1493.8 L3032.0,1493.8" fill="none" stroke="#ff00ff" stroke-width="1.7" stroke-linejoin="round"/>
<rect x="3030" y="1492.9" width="130" height="2" fill="#f000f0"/>
<rect x="3160" y="1494.5" width="183.6" height="3" fill="#ff10ff"/>
<rect x="3343.6" y="1492" width="33" height="2.7" fill="#ff10ff"/>
<rect x="3376.5" y="1494.5" width="30.5" height="3" fill="#ff10ff"/>
<rect x="2748.5" y="279.2" width="186.3" height="42.0" fill="#fff" stroke="#333" stroke-width="2.4"/>
<text class="lb" x="2750.1" y="314.4" font-size="40" textLength="181.1" lengthAdjust="spacingAndGlyphs" fill="#111">Hb S zone</text>
<rect x="2741.2" y="321" width="2.4" height="4" fill="#222"/>
<rect x="2653.5" y="1313" width="2.8" height="97" fill="#111"/>
<rect x="2973.5" y="1343" width="4" height="98.6" fill="#8a8a8a"/>
<rect x="2522.4" y="1270.8" width="188.4" height="41.9" fill="#fff" stroke="#111" stroke-width="2.4"/>
<text class="lb" x="2523.1" y="1305.6" font-size="40" textLength="184.9" lengthAdjust="spacingAndGlyphs" fill="#111">Hb D zone</text>
<rect x="2918.2" y="1300.7" width="113.2" height="41.9" fill="#fff" stroke="#111" stroke-width="2.4"/>
<text class="lb" x="2918.8" y="1335.5" font-size="40" textLength="109.6" lengthAdjust="spacingAndGlyphs" fill="#111">Hb A2</text>
<rect x="2362.1" y="1339.5" width="324.7" height="41.9" fill="#fff" stroke="#444" stroke-width="2.4"/>
<text class="lb" x="2363.2" y="1374.3" font-size="40" textLength="320.4" lengthAdjust="spacingAndGlyphs" fill="#111">Hb F or Hb variant</text>
<rect x="2824.0" y="1365.9" width="204.1" height="41.9" fill="#fff" stroke="#333" stroke-width="2.4"/>
<text class="lb" x="2825.1" y="1401.0" font-size="40" textLength="201.9" lengthAdjust="spacingAndGlyphs" fill="#111">Hb A2 zone</text>
<rect x="2524" y="1383" width="3.6" height="11" fill="#8a8a8a"/>
<rect x="2902.5" y="1409" width="3.6" height="10.8" fill="#8a8a8a"/>
</g>
</svg>
<div class="pl" style="left:92.6px;top:85.6px">(a)</div>
<div class="pl" style="left:1967.3px;top:85.6px">(b)</div>
<p class="cap">Figure 3: Representative CZE chromatograms of genotype HbSS patients. A) an untreated<br>HbSS patient B) a HbSS patient treated with voxelotor.</p>
</body></html>
